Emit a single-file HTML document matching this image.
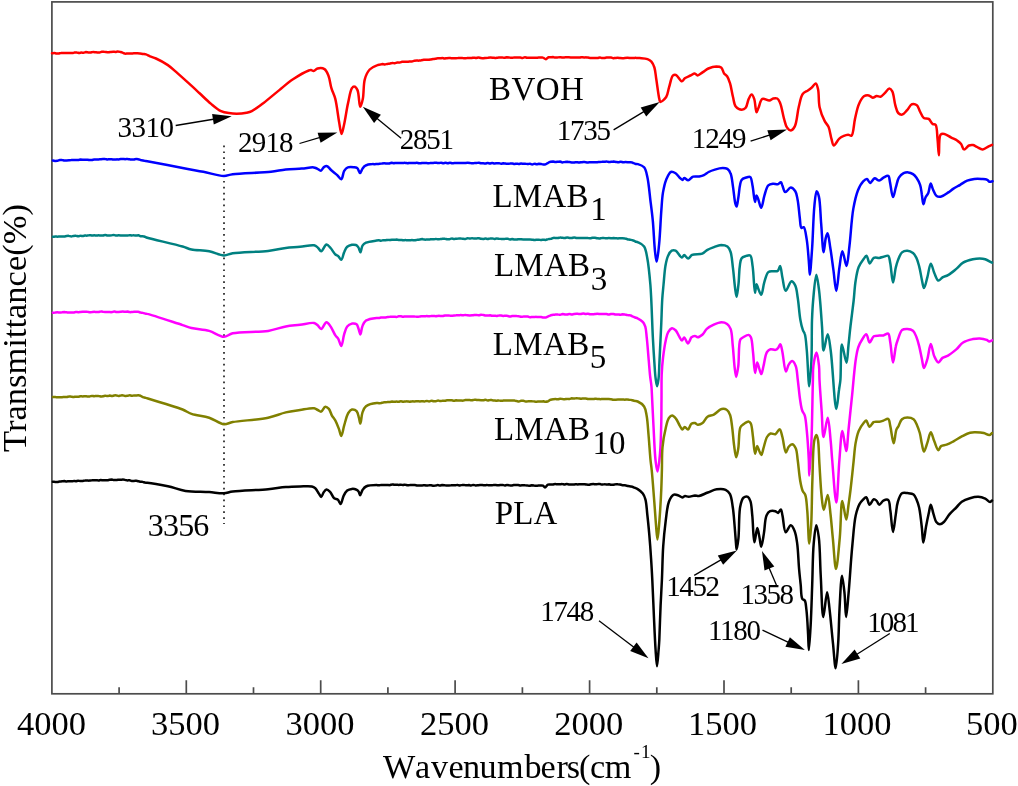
<!DOCTYPE html><html><head><meta charset="utf-8"><title>FTIR spectra</title><style>html,body{margin:0;padding:0;background:#fff;overflow:hidden;}svg{display:block;}text{font-family:"Liberation Serif","Times New Roman",serif;fill:#000;}</style></head><body>
<svg width="1018" height="786" viewBox="0 0 1018 786">
<rect x="0" y="0" width="1018" height="786" fill="#fff"/>
<rect x="51.9" y="1.9" width="940.9" height="691.9" fill="none" stroke="#4c4c4c" stroke-width="1.7"/>
<path d="M119.1,693.8V687.2 M186.3,693.8V680.2 M253.5,693.8V687.2 M320.7,693.8V680.2 M387.9,693.8V687.2 M455.1,693.8V680.2 M522.4,693.8V687.2 M589.6,693.8V680.2 M656.8,693.8V687.2 M724.0,693.8V680.2 M791.2,693.8V687.2 M858.4,693.8V680.2 M925.6,693.8V687.2" stroke="#4c4c4c" stroke-width="1.7" fill="none"/>
<text x="17.12" y="734.8" font-size="34.5">4000</text>
<text x="151.05" y="734.8" font-size="34.5">3500</text>
<text x="285.46" y="734.8" font-size="34.5">3000</text>
<text x="419.94" y="734.8" font-size="34.5">2500</text>
<text x="554.36" y="734.8" font-size="34.5">2000</text>
<text x="688.01" y="734.8" font-size="34.5">1500</text>
<text x="822.43" y="734.8" font-size="34.5">1000</text>
<text x="965.98" y="734.8" font-size="34.5">500</text>
<text x="383.0 415.0 430.9 448.4 463.1 479.5 497.0 524.6 540.5 556.6 566.7 579.1 590.0 604.7" y="777.6" font-size="34.2">Wavenumbers(cm</text>
<text x="633.49" y="758.4" font-size="19">-</text>
<text x="640.93" y="758.4" font-size="19">1</text>
<text x="649.70" y="777.6" font-size="34.2">)</text>
<text transform="translate(25.5,451.92) rotate(-90)" font-size="34.5">Transmittance(%)</text>
<line x1="224" y1="145.5" x2="224" y2="524" stroke="#222" stroke-width="1.7" stroke-dasharray="1.7 4.2"/>
<path d="M52.0,53.3C52.8,53.2 53.5,53.0 54.2,53.0C55.0,53.0 55.7,53.4 56.5,53.5C57.2,53.5 58.0,53.5 58.8,53.4C59.5,53.3 60.2,53.0 61.0,53.0C61.7,52.9 62.5,53.1 63.2,53.1C64.0,53.1 64.8,53.0 65.5,53.0C66.3,53.0 67.0,53.2 67.8,53.1C68.5,53.1 69.2,53.0 70.0,53.0C70.8,53.0 71.5,53.2 72.3,53.1C73.0,53.1 73.8,52.7 74.5,52.6C75.3,52.5 76.1,52.4 76.8,52.5C77.6,52.5 78.3,52.9 79.1,52.9C79.8,53.0 80.6,52.6 81.4,52.6C82.1,52.6 82.9,52.8 83.6,52.7C84.4,52.7 85.1,52.2 85.9,52.1C86.7,52.1 87.4,52.3 88.2,52.4C88.9,52.4 89.7,52.5 90.5,52.5C91.2,52.5 92.0,52.1 92.7,52.1C93.5,52.0 94.2,52.1 95.0,52.2C95.8,52.3 96.5,52.4 97.3,52.5C98.0,52.5 98.8,52.5 99.5,52.4C100.3,52.3 101.1,51.9 101.8,51.8C102.6,51.7 103.3,51.7 104.1,51.8C104.9,51.8 105.6,52.0 106.4,52.1C107.1,52.2 107.9,52.4 108.6,52.3C109.4,52.3 110.1,52.0 110.9,51.9C111.7,51.8 112.4,51.8 113.2,51.8C113.9,51.8 114.7,51.9 115.5,51.9C116.2,51.9 117.0,51.6 117.7,51.6C118.5,51.6 119.2,51.7 120.0,51.9C120.8,52.1 121.7,52.3 122.5,52.6C123.3,52.8 124.1,53.4 125.0,53.6C125.8,53.8 126.7,53.5 127.5,53.5C128.3,53.5 129.2,53.6 130.0,53.6C130.8,53.5 131.7,53.4 132.5,53.4C133.3,53.3 134.2,53.4 135.0,53.3C135.8,53.3 136.7,53.3 137.5,53.3C138.3,53.3 139.1,53.4 140.0,53.5C141.0,53.6 142.0,53.8 143.0,53.9C144.0,54.1 145.0,54.1 146.0,54.4C147.3,54.8 148.5,55.7 150.0,56.3C151.8,57.0 153.7,57.5 156.0,58.5C159.3,60.0 164.2,62.6 167.9,65.1C171.5,67.6 174.5,70.6 177.7,73.4C181.0,76.3 184.1,79.1 187.5,82.2C191.3,85.6 195.4,89.4 199.3,93.0C203.2,96.6 207.2,100.7 211.1,103.9C214.5,106.7 217.8,109.6 221.0,111.1C223.6,112.3 226.2,112.7 228.8,113.1C231.4,113.5 233.8,113.7 236.6,113.7C239.7,113.7 243.7,113.3 246.5,112.7C248.6,112.3 249.8,112.1 251.8,111.1C255.1,109.5 259.4,106.0 263.6,102.9C268.5,99.2 274.2,94.2 279.3,90.1C284.0,86.3 288.1,82.5 293.0,79.3C298.0,76.0 305.9,71.6 308.8,70.5C309.8,70.1 310.2,69.9 311.0,70.0C311.9,70.1 312.7,71.1 313.7,71.0C314.9,70.9 316.0,68.9 317.6,68.5C319.5,68.0 322.7,68.0 324.5,69.1C326.3,70.2 327.3,72.8 328.4,75.4C329.8,78.8 330.2,84.1 331.4,88.1C332.5,91.9 334.2,94.5 335.3,98.9C336.9,105.2 338.0,116.1 339.2,122.5C340.0,127.0 340.7,133.9 341.6,133.9C342.4,133.9 343.2,128.3 344.1,124.5C345.4,118.8 346.6,109.4 348.1,102.9C349.3,97.5 350.3,90.4 352.0,88.1C352.7,87.1 353.5,86.5 354.3,86.6C355.3,86.7 356.6,88.3 357.5,90.1C359.1,93.5 359.1,106.7 360.2,106.8C361.0,106.9 362.1,102.2 362.8,98.9C363.9,93.9 363.3,84.6 364.8,79.3C365.9,75.3 367.4,71.9 369.7,69.5C371.8,67.3 375.6,65.8 377.5,65.1C378.5,64.7 379.1,64.8 380.0,64.6C380.8,64.5 381.6,64.2 382.4,64.1C383.2,64.1 384.1,64.4 384.9,64.4C385.7,64.4 386.5,64.0 387.4,63.9C388.2,63.8 389.0,63.8 389.8,63.6C390.6,63.5 391.4,63.1 392.3,63.0C393.1,62.9 393.9,63.3 394.7,63.3C395.6,63.2 396.4,62.7 397.2,62.6C398.0,62.5 398.8,62.7 399.6,62.6C400.5,62.5 401.3,62.0 402.1,61.8C402.9,61.7 403.7,61.7 404.6,61.7C405.4,61.7 406.2,61.8 407.0,61.8C407.8,61.7 408.6,61.6 409.4,61.5C410.3,61.4 411.1,61.5 411.9,61.4C412.7,61.3 413.5,60.9 414.4,60.8C415.2,60.7 416.0,60.6 416.8,60.6C417.6,60.6 418.3,60.7 419.1,60.6C419.9,60.5 420.7,60.4 421.4,60.3C422.2,60.1 423.0,59.9 423.8,59.8C424.5,59.7 425.3,59.8 426.1,59.7C426.9,59.7 427.6,59.8 428.4,59.7C429.2,59.7 429.9,59.6 430.7,59.5C431.5,59.3 432.3,59.1 433.0,59.0C433.8,58.9 434.6,59.0 435.4,58.8C436.1,58.7 436.9,58.3 437.7,58.2C438.4,58.1 439.2,58.3 440.0,58.3C440.8,58.3 441.5,58.1 442.2,58.1C443.0,58.1 443.7,58.5 444.5,58.5C445.2,58.5 446.0,58.3 446.8,58.2C447.5,58.1 448.3,58.0 449.0,58.0C449.8,58.0 450.5,58.2 451.2,58.2C452.0,58.3 452.7,58.3 453.5,58.3C454.2,58.3 455.0,58.3 455.8,58.3C456.5,58.2 457.2,58.1 458.0,58.1C458.7,58.0 459.5,58.1 460.2,58.1C461.0,58.1 461.8,58.1 462.5,58.1C463.3,58.2 464.0,58.3 464.8,58.3C465.5,58.3 466.2,58.1 467.0,58.1C467.7,58.0 468.5,58.0 469.2,58.0C470.0,58.0 470.8,58.1 471.5,58.0C472.3,58.0 473.0,57.7 473.8,57.7C474.5,57.7 475.2,58.0 476.0,58.0C476.8,58.0 477.6,57.6 478.4,57.6C479.2,57.6 480.0,57.9 480.8,58.0C481.6,58.1 482.4,58.2 483.2,58.2C484.0,58.2 484.8,58.0 485.6,57.9C486.4,57.8 487.2,57.7 488.0,57.7C488.8,57.6 489.6,57.5 490.4,57.5C491.2,57.5 492.0,57.6 492.8,57.7C493.6,57.7 494.4,57.9 495.2,57.9C496.0,58.0 496.8,57.8 497.6,57.7C498.4,57.7 499.2,57.5 500.0,57.5C500.8,57.5 501.5,57.5 502.3,57.5C503.0,57.6 503.8,57.8 504.5,57.8C505.3,57.7 506.0,57.4 506.8,57.3C507.5,57.3 508.3,57.4 509.1,57.5C509.8,57.6 510.6,57.8 511.3,57.8C512.1,57.9 512.8,57.6 513.6,57.6C514.3,57.5 515.1,57.5 515.8,57.5C516.6,57.5 517.4,57.4 518.1,57.4C518.9,57.4 519.6,57.5 520.4,57.6C521.1,57.7 521.9,57.9 522.6,57.9C523.4,57.8 524.1,57.2 524.9,57.2C525.6,57.2 526.4,57.7 527.2,57.8C527.9,57.9 528.7,57.8 529.4,57.8C530.2,57.8 530.9,57.9 531.7,57.8C532.4,57.8 533.2,57.8 533.9,57.7C534.7,57.7 535.5,57.8 536.2,57.8C537.0,57.8 537.7,57.6 538.5,57.6C539.2,57.6 540.0,57.6 540.7,57.6C541.5,57.6 542.2,57.4 543.0,57.6C543.9,57.8 545.0,59.3 545.9,59.2C546.8,59.1 547.6,57.6 548.5,57.3C549.2,57.1 550.0,57.3 550.8,57.3C551.5,57.2 552.3,57.0 553.0,57.0C553.8,57.1 554.5,57.5 555.2,57.6C556.0,57.7 556.8,57.5 557.5,57.4C558.3,57.3 559.0,57.2 559.8,57.2C560.5,57.2 561.2,57.4 562.0,57.4C562.7,57.4 563.5,57.4 564.2,57.4C565.0,57.4 565.7,57.3 566.5,57.3C567.2,57.3 568.0,57.3 568.8,57.3C569.5,57.3 570.2,57.4 571.0,57.5C571.7,57.5 572.5,57.5 573.2,57.5C574.0,57.6 574.8,57.6 575.5,57.6C576.3,57.5 577.0,57.5 577.8,57.5C578.5,57.4 579.3,57.5 580.0,57.5C580.7,57.5 581.5,57.2 582.2,57.2C583.0,57.2 583.7,57.3 584.4,57.4C585.2,57.4 585.9,57.3 586.7,57.4C587.4,57.4 588.1,57.6 588.9,57.7C589.6,57.8 590.4,57.9 591.1,57.9C591.9,58.0 592.6,57.9 593.3,57.9C594.1,57.9 594.8,57.9 595.6,57.9C596.3,58.0 597.0,58.0 597.8,58.0C598.5,57.9 599.3,57.6 600.0,57.6C600.7,57.6 601.5,58.0 602.2,58.1C603.0,58.1 603.7,58.1 604.4,58.0C605.2,57.9 605.9,57.7 606.7,57.6C607.4,57.5 608.1,57.6 608.9,57.6C609.6,57.6 610.4,57.5 611.1,57.6C611.9,57.7 612.6,58.1 613.3,58.2C614.1,58.2 614.8,57.9 615.6,57.9C616.3,57.8 617.0,57.8 617.8,57.8C618.5,57.8 619.2,58.0 620.0,58.1C620.8,58.2 621.6,58.2 622.5,58.2C623.3,58.2 624.1,58.1 624.9,58.0C625.7,57.9 626.5,57.8 627.4,57.8C628.2,57.8 629.0,57.8 629.8,57.9C630.6,57.9 631.4,58.1 632.2,58.1C633.1,58.1 633.9,57.9 634.7,57.9C635.5,57.8 636.3,57.9 637.1,57.9C638.0,58.0 638.6,58.0 639.6,58.1C641.5,58.3 645.4,58.3 647.5,59.1C649.1,59.7 650.3,60.4 651.4,61.6C652.7,63.0 653.6,65.1 654.4,67.5C655.4,70.7 655.6,74.9 656.3,79.3C657.2,85.0 658.4,95.2 659.3,98.9C659.7,100.4 659.6,101.7 660.3,101.9C661.4,102.2 664.8,99.2 666.2,97.0C667.9,94.5 668.0,90.6 669.1,87.2C670.3,83.4 671.2,76.9 673.0,75.4C673.9,74.7 674.9,74.6 676.0,75.0C677.8,75.6 680.3,81.3 681.9,81.3C683.0,81.3 683.6,79.2 684.8,78.3C686.3,77.2 688.9,76.3 690.7,75.4C692.2,74.7 693.5,73.3 694.7,73.4C695.8,73.5 696.5,75.4 697.6,75.4C699.0,75.4 700.8,73.5 702.5,72.4C704.4,71.2 706.2,69.5 708.4,68.5C710.8,67.5 714.0,66.6 716.3,66.5C718.1,66.5 719.9,66.5 721.2,67.5C722.7,68.6 723.0,71.9 724.1,73.4C725.0,74.6 726.2,75.0 727.1,76.3C728.3,78.0 729.1,80.5 730.0,83.2C731.2,87.0 731.9,92.8 733.0,97.0C733.9,100.6 734.1,104.7 735.9,106.8C737.3,108.5 740.0,109.7 741.8,109.7C743.2,109.7 744.7,109.0 745.7,107.8C747.2,106.0 747.5,101.3 748.7,98.9C749.6,97.1 750.7,94.6 751.6,94.6C752.5,94.6 753.5,97.0 754.2,98.9C755.4,102.1 755.5,112.2 756.5,112.3C757.1,112.4 757.7,109.6 758.5,107.8C759.6,105.3 760.3,99.9 762.4,98.9C764.2,98.0 767.4,100.7 769.3,100.5C770.8,100.3 771.9,98.8 773.2,98.5C774.5,98.2 776.1,97.9 777.2,98.5C778.5,99.2 779.2,100.9 780.1,102.9C781.7,106.4 782.7,114.1 784.0,118.6C785.0,122.0 785.5,125.4 787.0,127.4C788.1,128.9 789.6,130.5 790.9,130.4C792.2,130.3 793.7,128.5 794.8,126.4C796.9,122.5 797.3,112.6 798.8,106.8C800.0,102.0 800.7,96.7 802.7,94.0C804.1,92.1 806.3,91.6 807.9,90.5C809.3,89.5 810.5,88.6 811.8,87.5C813.1,86.3 814.7,83.4 815.7,83.6C816.8,83.8 817.5,86.9 818.1,89.5C819.1,93.8 818.4,101.8 819.6,107.2C820.7,112.1 822.8,117.4 824.6,120.9C825.8,123.4 827.4,124.4 828.5,126.8C829.9,130.0 830.4,135.2 831.4,138.6C832.2,141.2 832.6,145.3 833.8,145.5C835.1,145.7 837.5,140.2 839.3,138.6C840.6,137.4 841.8,136.8 843.2,136.2C844.7,135.5 846.6,134.7 848.1,134.7C849.3,134.7 850.6,136.2 851.5,135.6C853.6,134.3 853.7,124.3 855.0,118.9C856.2,113.8 857.1,108.2 858.9,104.2C860.3,101.0 861.9,97.6 863.9,96.3C865.4,95.3 867.3,95.1 868.8,95.4C870.2,95.7 871.4,97.6 872.7,97.7C874.0,97.8 875.3,96.2 876.6,96.0C877.9,95.8 879.3,97.0 880.6,96.7C882.0,96.3 883.2,94.6 884.5,93.4C886.1,92.0 888.0,88.5 889.4,88.5C890.5,88.5 891.5,89.9 892.3,91.4C893.8,94.2 894.2,101.3 895.3,105.2C896.2,108.2 896.7,111.5 898.2,113.0C899.3,114.1 900.9,114.8 902.2,114.6C903.8,114.3 905.5,111.8 907.1,110.1C908.8,108.3 910.2,104.9 912.0,104.2C913.5,103.7 915.6,104.2 916.9,105.2C918.4,106.3 918.7,109.1 919.8,111.1C921.0,113.3 922.1,116.8 923.8,118.0C925.2,119.0 927.3,118.0 928.7,118.9C930.3,119.9 931.2,123.0 932.6,123.9C933.6,124.6 934.8,123.9 935.6,124.8C937.2,126.7 937.0,133.8 937.5,138.6C938.1,143.9 938.4,155.3 938.9,155.3C939.4,155.3 938.5,137.2 940.5,134.7C941.3,133.7 942.2,133.6 943.4,133.7C945.4,133.8 948.9,136.4 951.3,137.6C953.4,138.7 955.5,139.4 957.2,140.6C958.7,141.6 960.0,142.7 961.1,144.1C962.3,145.6 962.7,149.1 964.0,149.4C965.3,149.7 967.3,146.2 969.0,145.5C970.3,145.0 971.6,144.9 972.9,145.1C974.2,145.3 975.4,146.2 976.8,146.8C978.6,147.6 980.7,149.5 982.7,149.4C984.7,149.3 986.9,147.2 988.6,146.4C989.9,145.8 990.9,145.4 992.1,144.9" fill="none" stroke="#ff0000" stroke-width="2.5" stroke-linejoin="round" stroke-linecap="round"/>
<path d="M52.9,160.6C53.7,160.7 54.4,160.8 55.2,160.9C56.0,160.9 56.7,160.9 57.5,160.8C58.3,160.7 59.0,160.2 59.8,160.1C60.5,160.0 61.3,160.0 62.1,160.1C62.8,160.1 63.6,160.5 64.4,160.5C65.1,160.6 65.9,160.4 66.7,160.4C67.4,160.4 68.2,160.4 69.0,160.3C69.7,160.2 70.5,160.0 71.3,160.0C72.0,159.9 72.8,160.1 73.5,160.1C74.3,160.1 75.1,160.1 75.8,160.1C76.6,160.0 77.4,160.1 78.1,160.0C78.9,159.9 79.7,159.7 80.4,159.6C81.2,159.6 82.0,159.7 82.7,159.8C83.5,159.8 84.3,159.7 85.0,159.7C85.8,159.7 86.6,159.8 87.3,159.8C88.1,159.9 88.8,160.0 89.6,160.0C90.4,160.0 91.1,160.0 91.9,159.9C92.7,159.8 93.4,159.6 94.2,159.5C94.9,159.4 95.7,159.5 96.4,159.5C97.1,159.5 97.9,159.5 98.6,159.4C99.4,159.4 100.1,159.3 100.8,159.3C101.6,159.2 102.3,159.1 103.0,159.1C103.8,159.1 104.5,159.0 105.2,159.1C106.0,159.1 106.7,159.4 107.5,159.4C108.2,159.4 108.9,159.3 109.7,159.3C110.4,159.3 111.1,159.2 111.9,159.3C112.6,159.4 113.4,159.6 114.1,159.6C114.8,159.7 115.6,159.4 116.3,159.4C117.0,159.3 117.8,159.4 118.5,159.4C119.2,159.3 120.0,159.2 120.7,159.1C121.5,159.1 122.2,159.0 122.9,159.0C123.7,159.0 124.4,159.2 125.1,159.2C125.9,159.2 126.6,159.0 127.4,159.0C128.1,159.0 128.8,159.2 129.6,159.3C130.3,159.4 131.0,159.6 131.8,159.6C132.5,159.6 133.2,159.5 134.0,159.4C134.7,159.3 135.5,159.0 136.2,159.0C136.9,159.0 137.7,159.0 138.4,159.2C139.2,159.4 139.9,159.8 140.6,160.0C141.4,160.2 142.1,160.3 142.9,160.4C143.6,160.6 144.3,160.7 145.1,160.9C145.8,161.0 146.1,161.0 147.3,161.2C152.0,162.0 172.4,166.1 182.6,168.0C190.4,169.5 196.4,170.5 203.3,171.8C210.2,173.1 218.5,176.0 223.9,176.0C227.4,176.0 228.7,174.7 232.7,174.2C240.9,173.1 261.2,172.9 271.0,171.8C277.1,171.1 280.8,170.0 285.8,169.5C291.0,168.9 296.9,169.0 301.8,168.6C306.0,168.3 310.9,167.1 313.6,167.4C315.1,167.6 315.9,168.1 317.1,168.6C318.4,169.2 319.8,170.9 320.9,170.7C322.1,170.5 323.0,167.5 324.2,166.8C325.1,166.3 326.1,165.9 327.1,166.2C328.5,166.6 329.7,168.9 331.3,170.3C333.1,171.9 335.4,173.5 337.2,175.1C338.7,176.5 340.2,179.5 341.3,179.2C342.7,178.9 342.9,173.0 344.2,170.9C345.2,169.3 346.3,168.0 347.8,167.4C349.4,166.7 352.0,167.0 353.7,167.2C355.0,167.3 356.2,167.3 357.2,168.0C358.5,168.9 359.2,173.1 360.1,173.1C360.9,173.1 361.6,169.9 362.5,168.6C363.4,167.4 364.1,166.3 365.4,165.6C367.1,164.6 370.8,164.2 372.5,164.1C373.5,164.0 374.1,164.2 374.9,164.2C375.6,164.2 376.4,164.0 377.2,164.0C378.0,163.9 378.8,163.9 379.6,163.8C380.4,163.7 381.1,163.4 381.9,163.4C382.7,163.3 383.5,163.3 384.3,163.3C385.1,163.3 385.9,163.5 386.7,163.6C387.4,163.6 388.2,163.6 389.0,163.5C389.8,163.3 390.6,162.9 391.4,162.8C392.2,162.8 393.0,163.1 393.7,163.2C394.5,163.2 395.3,162.9 396.1,162.9C396.9,162.9 397.6,163.1 398.4,163.1C399.2,163.0 400.0,162.9 400.7,162.9C401.5,162.9 402.3,162.9 403.1,162.9C403.8,162.9 404.6,162.8 405.4,162.9C406.1,162.9 406.9,163.2 407.7,163.2C408.5,163.2 409.2,162.9 410.0,162.9C410.7,162.9 411.5,162.9 412.2,162.9C413.0,162.9 413.7,163.2 414.4,163.1C415.2,163.1 415.9,162.8 416.7,162.8C417.4,162.8 418.1,163.1 418.9,163.2C419.6,163.2 420.4,163.2 421.1,163.2C421.8,163.1 422.6,162.9 423.3,162.9C424.1,162.9 424.8,162.9 425.5,163.0C426.3,163.0 427.0,163.2 427.8,163.2C428.5,163.2 429.2,163.1 430.0,163.1C430.7,163.0 431.5,163.0 432.2,162.9C432.9,162.9 433.7,162.8 434.4,162.7C435.2,162.7 435.9,162.8 436.6,162.8C437.4,162.9 438.1,163.1 438.9,163.1C439.6,163.1 440.3,162.7 441.1,162.7C441.8,162.7 442.6,163.2 443.3,163.2C444.0,163.2 444.8,162.8 445.5,162.8C446.3,162.8 447.0,163.2 447.7,163.2C448.5,163.3 449.2,162.8 450.0,162.8C450.7,162.8 451.4,163.2 452.2,163.3C452.9,163.3 453.7,163.2 454.4,163.1C455.1,163.1 455.9,163.0 456.6,163.0C457.4,163.0 458.1,163.0 458.8,163.0C459.6,163.0 460.3,163.1 461.1,163.1C461.8,163.1 462.5,163.1 463.3,163.0C464.0,163.0 464.8,162.9 465.5,162.9C466.2,162.8 467.0,162.8 467.7,162.8C468.5,162.8 469.2,162.9 469.9,163.0C470.7,163.1 471.4,163.3 472.2,163.3C472.9,163.3 473.6,163.1 474.4,163.1C475.1,163.0 475.9,163.1 476.6,163.0C477.3,162.9 478.1,162.7 478.8,162.7C479.6,162.8 480.3,163.2 481.1,163.3C481.8,163.4 482.5,163.3 483.3,163.3C484.0,163.3 484.8,163.5 485.5,163.5C486.2,163.4 487.0,163.0 487.7,163.0C488.5,163.0 489.2,163.4 490.0,163.4C490.7,163.4 491.4,163.0 492.2,163.0C492.9,163.0 493.7,163.4 494.4,163.4C495.1,163.5 495.9,163.3 496.6,163.2C497.4,163.2 498.1,163.1 498.9,163.2C499.6,163.3 500.3,163.7 501.1,163.7C501.8,163.7 502.6,163.3 503.3,163.2C504.0,163.2 504.8,163.5 505.5,163.6C506.3,163.7 507.0,163.9 507.8,163.8C508.5,163.8 509.2,163.5 510.0,163.5C510.7,163.4 511.5,163.4 512.2,163.5C513.0,163.6 513.7,163.9 514.4,164.0C515.2,164.0 515.9,163.7 516.7,163.7C517.4,163.7 518.2,164.0 518.9,163.9C519.6,163.9 520.4,163.5 521.1,163.5C521.9,163.5 522.6,163.8 523.3,163.8C524.1,163.8 524.8,163.6 525.6,163.7C526.3,163.7 527.1,164.1 527.8,164.1C528.5,164.1 529.3,163.7 530.0,163.7C530.8,163.8 531.5,164.4 532.2,164.4C533.0,164.4 533.7,163.8 534.5,163.8C535.2,163.7 536.0,164.3 536.7,164.3C537.4,164.3 538.2,163.9 538.9,163.8C539.7,163.8 540.4,163.9 541.1,164.0C541.9,164.2 542.6,164.4 543.4,164.5C544.1,164.5 544.9,164.5 545.6,164.3C546.5,164.0 547.3,163.2 548.2,162.8C549.0,162.3 549.9,161.9 550.7,161.7C551.5,161.5 552.3,161.5 553.0,161.5C553.8,161.6 554.6,161.9 555.4,162.0C556.2,162.0 556.9,161.9 557.7,161.8C558.5,161.8 559.3,161.6 560.1,161.6C560.9,161.7 561.6,162.3 562.4,162.4C563.2,162.4 564.0,161.9 564.8,161.9C565.5,161.8 566.3,161.8 567.1,161.8C567.9,161.9 568.7,162.0 569.4,162.1C570.2,162.2 571.0,162.3 571.8,162.4C572.6,162.4 573.3,162.6 574.1,162.5C574.9,162.5 575.7,162.2 576.5,162.2C577.2,162.2 578.0,162.5 578.8,162.5C579.6,162.5 580.3,162.4 581.1,162.3C581.9,162.2 582.7,162.0 583.4,162.0C584.2,162.0 585.0,162.2 585.8,162.2C586.5,162.3 587.3,162.4 588.1,162.4C588.8,162.4 589.6,162.3 590.4,162.3C591.2,162.3 591.9,162.4 592.7,162.3C593.5,162.3 594.3,162.2 595.0,162.2C595.8,162.1 596.6,162.2 597.3,162.2C598.1,162.1 598.9,162.1 599.7,162.0C600.4,161.9 601.2,161.8 602.0,161.8C602.8,161.7 603.5,161.7 604.3,161.7C605.1,161.7 605.9,161.5 606.6,161.6C607.4,161.6 608.2,161.9 609.0,161.9C609.7,161.9 610.5,161.8 611.3,161.7C612.1,161.7 612.9,161.6 613.6,161.6C614.4,161.7 615.2,161.8 616.0,161.9C616.8,162.0 617.5,162.3 618.3,162.3C619.1,162.3 619.9,161.8 620.7,161.8C621.4,161.8 622.2,162.1 623.0,162.2C623.8,162.2 624.5,162.1 625.3,162.1C626.1,162.1 626.9,162.2 627.7,162.3C628.4,162.3 629.2,162.2 630.0,162.3C630.9,162.4 631.8,162.4 632.6,162.7C633.5,162.9 634.4,163.6 635.3,163.8C636.1,164.1 636.9,163.8 637.9,164.1C639.6,164.6 642.6,165.5 644.1,167.3C645.9,169.4 646.4,172.8 647.3,176.7C648.7,182.7 649.5,192.7 650.4,200.3C651.3,207.3 652.1,213.2 652.8,220.7C653.7,230.1 654.2,244.8 655.1,252.2C655.6,256.3 656.1,261.6 656.7,261.6C657.5,261.6 658.4,251.1 659.1,244.3C660.1,234.8 660.6,219.3 661.4,209.7C661.9,202.9 662.1,197.7 663.0,192.4C663.8,187.9 664.6,183.5 666.1,179.9C667.4,176.9 669.0,172.8 670.9,172.0C672.3,171.4 674.1,172.4 675.6,173.3C677.3,174.3 678.9,177.1 680.3,178.3C681.2,179.0 682.0,180.0 682.7,179.9C683.3,179.8 683.5,178.1 684.2,178.0C685.2,177.8 686.8,180.3 688.2,180.2C689.7,180.1 691.1,177.3 692.9,176.7C694.8,176.0 697.3,176.7 699.2,176.4C700.9,176.1 702.4,175.8 703.9,175.1C705.5,174.4 706.9,172.9 708.6,172.0C710.5,171.0 712.7,170.2 714.9,169.6C717.3,168.9 720.4,168.1 722.7,168.1C724.5,168.1 726.1,168.1 727.4,168.9C728.8,169.8 729.8,171.5 730.6,173.6C731.9,176.7 732.2,181.6 732.9,186.1C733.8,191.4 734.4,200.0 735.3,203.4C735.7,204.9 736.2,206.6 736.6,206.6C737.3,206.5 737.7,200.8 738.4,197.2C739.3,192.3 739.4,182.9 741.6,179.9C742.8,178.3 744.8,178.0 746.3,177.5C747.6,177.1 749.2,176.3 750.2,177.0C751.7,178.0 751.9,182.6 752.6,186.1C753.5,190.6 754.2,201.9 755.0,201.9C755.5,201.9 755.9,195.7 756.5,195.6C757.0,195.5 757.5,197.4 758.1,198.7C759.0,200.9 760.2,207.8 761.2,207.8C762.3,207.8 763.2,199.5 764.4,195.6C765.6,192.0 766.4,187.2 768.3,185.4C769.6,184.2 771.4,184.0 773.0,183.8C774.5,183.6 776.3,184.6 777.7,184.3C778.9,184.0 780.1,182.0 780.9,182.2C781.6,182.4 781.8,184.0 782.3,185.2C783.1,187.0 783.9,191.8 785.3,192.1C786.7,192.4 789.0,187.5 790.7,187.5C792.3,187.5 794.2,189.6 795.3,191.3C796.7,193.4 796.9,196.3 797.6,199.7C798.6,204.6 799.1,212.8 799.8,218.0C800.3,221.8 800.2,227.1 801.4,227.9C802.0,228.3 803.0,226.8 803.7,227.2C805.2,228.1 805.9,234.6 806.7,239.4C807.8,246.1 808.5,257.3 809.0,263.8C809.4,268.1 809.4,274.6 809.8,274.6C810.4,274.6 811.4,258.3 812.1,248.5C813.0,236.0 813.3,216.3 814.4,205.8C815.0,199.7 815.6,191.4 816.6,191.3C817.2,191.2 818.3,194.1 818.9,196.6C820.3,202.1 820.4,214.9 821.2,224.1C822.0,233.4 822.7,252.2 823.6,252.2C824.3,252.2 824.9,241.3 825.8,237.9C826.3,235.9 827.0,233.2 827.6,233.3C828.6,233.4 829.5,243.0 830.4,248.5C831.5,255.0 832.4,262.8 833.4,269.9C834.4,276.9 835.3,290.9 836.3,290.9C837.3,290.9 838.4,274.0 839.5,266.9C840.4,261.1 841.2,251.3 842.4,251.2C843.6,251.1 845.4,266.1 846.5,266.0C847.8,265.9 848.5,253.3 849.5,245.5C850.8,235.1 851.5,219.0 853.3,208.9C854.6,201.7 855.9,195.5 857.9,190.5C859.4,186.8 861.3,183.3 863.2,181.4C864.4,180.2 865.9,178.9 867.0,179.1C868.2,179.3 868.9,182.8 870.1,182.9C871.4,183.0 873.1,178.6 874.7,178.3C876.1,178.1 877.7,180.7 879.2,180.6C880.7,180.5 882.0,178.5 883.5,177.7C885.0,176.9 887.2,175.3 888.3,175.9C889.5,176.5 889.4,179.8 890.0,182.4C890.9,186.3 891.9,197.1 893.0,197.1C893.9,197.1 894.9,190.4 895.9,187.1C896.9,183.9 897.4,180.1 898.9,177.7C900.1,175.7 901.9,174.1 903.6,173.2C905.1,172.5 906.8,172.3 908.3,172.4C909.9,172.5 911.6,173.2 913.0,174.1C914.4,175.0 915.4,176.2 916.5,177.7C917.8,179.6 919.2,182.2 920.1,184.8C921.1,187.7 921.3,191.0 921.8,194.2C922.4,197.5 922.7,204.2 923.4,204.2C924.0,204.2 924.5,199.6 925.4,197.7C926.2,196.0 927.5,194.9 928.3,193.0C929.4,190.5 929.8,183.7 930.7,183.6C931.4,183.6 932.1,187.5 933.0,189.5C934.0,191.6 935.0,194.9 936.6,196.0C937.9,196.9 939.6,196.9 941.3,196.5C943.5,196.0 946.3,193.8 948.4,192.4C950.2,191.2 951.3,190.1 953.1,188.9C955.2,187.5 957.8,186.2 960.2,184.8C962.5,183.4 964.8,181.6 967.2,180.6C969.5,179.7 971.9,179.2 974.3,178.9C976.7,178.6 979.1,178.7 981.4,178.9C983.5,179.1 985.9,179.1 987.3,179.8C988.3,180.3 988.7,181.6 989.6,181.8C990.5,182.0 991.6,181.4 992.6,181.2" fill="none" stroke="#0000ff" stroke-width="2.5" stroke-linejoin="round" stroke-linecap="round"/>
<path d="M52.9,236.8C53.7,236.7 54.4,236.6 55.2,236.5C56.0,236.5 56.7,236.7 57.5,236.7C58.3,236.7 59.0,236.5 59.8,236.5C60.5,236.4 61.3,236.5 62.1,236.5C62.8,236.5 63.6,236.6 64.4,236.5C65.1,236.4 65.9,236.1 66.7,236.0C67.4,235.9 68.2,235.8 69.0,235.9C69.7,235.9 70.5,236.4 71.3,236.4C72.0,236.4 72.8,236.0 73.5,235.9C74.3,235.8 75.1,235.7 75.8,235.8C76.6,235.8 77.4,236.2 78.1,236.2C78.9,236.2 79.7,235.8 80.4,235.8C81.2,235.7 82.0,236.0 82.7,236.0C83.5,235.9 84.3,235.7 85.0,235.6C85.8,235.6 86.6,235.7 87.3,235.6C88.1,235.6 88.8,235.2 89.6,235.2C90.4,235.2 91.1,235.5 91.9,235.5C92.7,235.5 93.4,235.3 94.2,235.3C94.9,235.3 95.7,235.6 96.4,235.6C97.1,235.6 97.9,235.3 98.6,235.3C99.4,235.3 100.1,235.5 100.8,235.5C101.6,235.5 102.3,235.5 103.0,235.4C103.8,235.3 104.5,235.0 105.2,235.0C106.0,235.0 106.7,235.4 107.5,235.5C108.2,235.5 108.9,235.4 109.7,235.4C110.4,235.3 111.1,235.2 111.9,235.2C112.6,235.1 113.4,234.9 114.1,235.0C114.8,235.0 115.6,235.5 116.3,235.6C117.0,235.6 117.8,235.3 118.5,235.3C119.2,235.3 120.0,235.4 120.7,235.5C121.5,235.5 122.2,235.6 122.9,235.6C123.7,235.6 124.4,235.4 125.1,235.4C125.9,235.5 126.6,235.6 127.4,235.6C128.1,235.6 128.8,235.2 129.6,235.2C130.3,235.2 131.0,235.5 131.8,235.5C132.5,235.5 133.2,235.2 134.0,235.3C134.7,235.3 135.5,235.6 136.2,235.6C136.9,235.6 137.7,235.2 138.4,235.3C139.2,235.4 139.9,236.0 140.6,236.2C141.4,236.3 142.1,236.1 142.9,236.2C143.6,236.3 144.3,236.6 145.1,236.8C145.8,237.1 146.1,237.3 147.3,237.7C152.0,239.2 174.8,244.2 182.6,246.5C186.6,247.7 188.0,248.7 191.5,249.5C196.3,250.5 203.6,250.1 209.2,251.2C214.4,252.2 219.6,255.3 223.9,255.4C227.2,255.5 228.8,253.9 232.7,253.3C240.5,252.1 258.3,252.0 268.1,250.9C275.0,250.1 280.2,248.7 285.8,248.0C290.8,247.4 295.3,247.3 300.0,246.8C304.7,246.4 311.0,244.6 314.1,245.3C315.8,245.7 316.6,246.5 317.7,247.4C319.0,248.4 319.9,251.2 321.2,251.2C322.8,251.1 324.8,244.7 326.5,244.5C327.9,244.4 329.3,246.6 330.6,248.0C332.2,249.8 333.9,253.1 335.4,254.5C336.4,255.4 337.4,255.4 338.3,256.2C339.4,257.1 340.4,259.9 341.3,259.8C342.5,259.6 343.1,254.4 344.2,252.1C345.1,250.1 345.8,248.0 347.2,246.8C348.5,245.7 350.4,245.1 351.9,244.8C353.3,244.6 354.9,244.5 356.0,245.0C357.0,245.4 357.7,246.4 358.4,247.4C359.3,248.7 359.8,252.3 360.4,252.3C361.1,252.3 361.4,247.3 362.5,245.6C363.4,244.3 364.4,243.5 366.0,242.7C368.5,241.5 374.4,241.0 376.6,240.6C377.6,240.4 378.1,240.3 378.8,240.3C379.6,240.3 380.3,240.7 381.0,240.7C381.8,240.7 382.5,240.3 383.2,240.2C384.0,240.1 384.7,240.3 385.5,240.2C386.2,240.2 386.9,239.9 387.7,239.9C388.4,239.8 389.1,240.0 389.9,239.9C390.6,239.9 391.3,239.8 392.1,239.7C392.8,239.7 393.6,239.7 394.3,239.7C395.0,239.7 395.8,239.6 396.5,239.6C397.3,239.7 398.0,239.8 398.7,239.9C399.5,239.9 400.2,239.9 400.9,239.9C401.7,240.0 402.4,240.2 403.1,240.2C403.9,240.2 404.6,240.1 405.4,240.1C406.1,240.1 406.8,240.3 407.6,240.3C408.3,240.3 409.1,240.3 409.8,240.3C410.5,240.3 411.2,240.1 412.0,240.1C412.8,240.1 413.8,240.3 414.7,240.2C415.6,240.2 416.4,239.9 417.3,239.8C418.2,239.6 419.1,239.5 420.0,239.4C420.8,239.3 421.5,239.1 422.3,239.1C423.0,239.2 423.8,239.5 424.5,239.6C425.3,239.7 426.0,239.6 426.8,239.6C427.5,239.6 428.3,239.6 429.1,239.5C429.8,239.5 430.6,239.3 431.3,239.2C432.1,239.2 432.8,239.4 433.6,239.3C434.3,239.3 435.1,238.9 435.8,238.9C436.6,238.9 437.4,239.3 438.1,239.3C438.9,239.3 439.6,239.2 440.4,239.1C441.1,239.0 441.9,238.9 442.6,238.8C443.4,238.8 444.2,238.6 444.9,238.7C445.7,238.7 446.4,239.1 447.2,239.2C447.9,239.3 448.7,239.3 449.4,239.2C450.2,239.1 450.9,238.6 451.7,238.6C452.4,238.5 453.2,239.0 454.0,239.0C454.7,239.0 455.5,238.8 456.2,238.7C457.0,238.6 457.7,238.5 458.5,238.5C459.2,238.4 460.0,238.5 460.8,238.5C461.5,238.6 462.3,238.8 463.0,238.8C463.8,238.9 464.5,239.0 465.3,238.9C466.0,238.8 466.8,238.3 467.5,238.2C468.3,238.2 469.1,238.6 469.8,238.6C470.6,238.6 471.3,238.2 472.1,238.2C472.8,238.2 473.6,238.6 474.3,238.6C475.1,238.6 475.8,238.4 476.6,238.4C477.3,238.4 478.1,238.3 478.8,238.3C479.6,238.4 480.3,238.7 481.1,238.8C481.8,238.9 482.5,238.9 483.3,238.9C484.0,238.9 484.8,238.6 485.5,238.6C486.2,238.6 487.0,239.0 487.7,239.0C488.5,239.0 489.2,238.6 490.0,238.6C490.7,238.5 491.4,238.4 492.2,238.4C492.9,238.5 493.7,238.8 494.4,238.9C495.1,238.9 495.9,238.5 496.6,238.5C497.4,238.5 498.1,238.6 498.9,238.7C499.6,238.7 500.3,238.8 501.1,238.9C501.8,238.9 502.6,239.1 503.3,239.1C504.1,239.0 504.8,238.8 505.5,238.8C506.3,238.7 507.0,238.7 507.8,238.8C508.5,238.9 509.2,239.3 510.0,239.4C510.7,239.4 511.5,239.0 512.2,239.0C513.0,239.1 513.7,239.5 514.4,239.5C515.2,239.6 515.9,239.6 516.7,239.5C517.4,239.5 518.1,239.3 518.9,239.2C519.6,239.2 520.4,239.3 521.1,239.3C521.9,239.4 522.6,239.4 523.3,239.4C524.1,239.5 524.8,239.5 525.6,239.6C526.3,239.6 527.1,239.6 527.8,239.6C528.5,239.6 529.3,239.6 530.0,239.6C530.8,239.6 531.5,239.6 532.2,239.7C533.0,239.8 533.7,240.0 534.5,240.0C535.2,240.0 536.0,239.8 536.7,239.7C537.4,239.7 538.2,239.7 538.9,239.7C539.7,239.7 540.4,240.0 541.1,240.0C541.9,240.0 542.6,239.7 543.4,239.7C544.1,239.7 544.8,240.0 545.6,239.9C546.4,239.8 547.3,239.3 548.2,239.1C549.0,238.9 549.9,239.1 550.7,238.9C551.6,238.7 552.5,238.1 553.3,237.9C554.1,237.8 554.8,237.9 555.6,237.9C556.4,237.9 557.2,238.0 557.9,237.9C558.7,237.9 559.5,237.6 560.3,237.6C561.0,237.5 561.8,237.8 562.6,237.8C563.3,237.9 564.1,238.0 564.9,238.0C565.7,237.9 566.4,237.6 567.2,237.6C568.0,237.6 568.8,237.9 569.5,238.0C570.3,238.1 571.1,238.1 571.8,238.0C572.6,237.9 573.4,237.6 574.2,237.6C574.9,237.6 575.7,237.9 576.5,238.0C577.3,238.0 578.0,237.9 578.8,237.9C579.6,237.9 580.3,237.9 581.1,237.9C581.9,237.9 582.6,238.1 583.4,238.1C584.2,238.1 584.9,237.9 585.7,237.9C586.5,237.9 587.2,238.1 588.0,238.1C588.8,238.2 589.5,238.3 590.3,238.2C591.1,238.1 591.8,237.8 592.6,237.7C593.4,237.6 594.1,237.7 594.9,237.8C595.7,237.9 596.4,238.1 597.2,238.2C598.0,238.3 598.7,238.5 599.5,238.4C600.3,238.4 601.0,238.0 601.8,238.0C602.6,237.9 603.3,238.1 604.1,238.1C604.9,238.2 605.6,238.3 606.4,238.3C607.2,238.3 607.9,238.1 608.7,238.1C609.5,238.1 610.2,238.1 611.0,238.2C611.8,238.2 612.5,238.1 613.3,238.1C614.1,238.2 614.8,238.2 615.6,238.2C616.4,238.2 617.1,238.4 617.9,238.4C618.7,238.4 619.4,238.2 620.2,238.2C621.0,238.2 621.7,238.3 622.5,238.3C623.3,238.3 624.0,238.3 624.8,238.4C625.7,238.6 626.5,239.0 627.4,239.2C628.3,239.5 629.1,239.5 630.0,239.7C630.9,239.9 631.8,239.9 632.6,240.2C633.5,240.5 634.4,241.1 635.3,241.5C636.1,241.8 636.9,241.8 637.9,242.3C639.6,243.1 642.6,244.4 644.1,246.5C646.0,249.2 646.4,253.5 647.3,258.3C648.7,265.4 649.5,274.6 650.4,285.0C651.6,299.7 652.1,323.8 652.9,338.2C653.4,348.0 653.9,355.6 654.4,362.9C654.8,368.6 655.0,373.9 655.6,378.2C656.0,381.3 656.6,386.2 657.1,386.2C657.6,386.2 658.2,381.3 658.6,378.2C659.1,373.9 659.1,368.5 659.4,362.9C659.7,356.0 660.2,347.1 660.5,340.0C660.8,333.9 661.0,329.0 661.3,322.9C661.6,315.8 661.8,306.8 662.2,300.0C662.5,294.5 663.0,290.3 663.5,285.0C664.1,279.1 664.5,271.4 665.4,266.1C666.1,262.2 666.7,258.7 668.0,256.0C669.0,253.8 670.2,251.5 671.7,250.7C672.9,250.1 674.3,250.1 675.6,250.7C677.6,251.6 680.3,257.5 681.9,257.5C682.9,257.5 683.3,255.1 684.2,255.1C685.3,255.1 686.9,258.6 688.2,258.6C689.5,258.6 690.3,255.7 692.1,254.8C694.6,253.6 699.7,254.7 702.3,253.6C704.3,252.8 705.3,251.1 707.0,250.1C708.9,249.0 711.1,248.1 713.3,247.3C715.8,246.4 718.7,245.0 721.2,244.9C723.4,244.9 725.8,245.3 727.4,246.5C729.0,247.7 729.8,249.6 730.6,252.0C731.9,255.8 732.2,262.0 732.9,267.7C733.8,274.4 734.5,284.4 735.3,289.7C735.7,292.7 736.2,296.8 736.6,296.8C737.2,296.8 737.8,289.7 738.4,285.0C739.4,277.9 738.8,262.3 741.6,258.3C742.8,256.5 744.8,256.4 746.3,255.9C747.6,255.5 749.2,254.8 750.2,255.5C751.9,256.7 751.9,261.7 752.6,266.1C753.7,273.0 754.2,292.9 755.0,292.9C755.5,292.9 755.8,284.3 756.5,284.2C757.0,284.2 757.5,286.7 758.1,288.2C758.9,290.1 760.3,294.9 761.2,294.8C762.5,294.7 763.1,285.9 764.4,281.9C765.5,278.4 766.4,273.7 768.3,272.1C769.6,271.0 771.4,271.4 773.0,271.2C774.6,271.0 776.5,271.7 777.7,270.9C779.0,270.1 779.4,266.0 780.1,266.1C781.1,266.2 781.6,274.0 782.5,278.0C783.4,282.2 784.1,290.5 785.7,290.7C787.2,290.9 789.7,281.4 791.5,281.2C792.8,281.1 794.3,283.6 795.3,285.6C796.8,288.6 797.0,293.5 797.8,298.3C798.8,304.6 799.3,314.1 800.4,320.0C801.1,324.1 802.0,327.7 802.9,330.2C803.5,331.8 804.3,332.2 804.8,334.0C805.9,337.5 806.2,343.9 806.8,350.5C807.7,360.1 808.5,386.2 809.3,386.2C810.0,386.2 810.9,370.2 811.4,360.7C812.0,348.7 811.6,331.0 812.0,320.0C812.3,312.4 812.5,307.8 813.1,300.9C813.8,292.9 815.2,274.8 816.3,274.8C817.1,274.8 818.0,282.6 818.8,288.2C820.1,297.6 821.2,315.0 822.0,326.3C822.7,335.3 822.5,350.4 823.6,350.5C824.5,350.6 826.5,334.2 827.7,334.2C828.9,334.2 829.7,343.4 830.7,350.5C832.6,363.9 834.6,409.0 836.3,409.0C837.3,409.0 838.2,395.3 839.0,390.0C839.5,386.1 840.0,384.4 840.4,380.0C841.1,371.8 840.5,344.5 841.9,344.4C842.9,344.3 845.4,362.8 846.5,362.7C847.6,362.6 847.8,351.0 848.5,345.0C849.2,338.8 849.7,332.8 850.5,326.0C851.4,318.2 852.7,308.9 853.6,301.0C854.4,294.0 854.6,287.0 855.6,281.0C856.4,275.9 857.1,270.9 858.7,267.0C860.0,263.7 862.3,260.7 863.8,258.7C864.8,257.4 865.7,255.6 866.5,255.7C867.7,255.9 868.4,263.2 869.7,263.4C870.9,263.5 872.1,258.8 873.8,257.9C875.3,257.1 877.6,258.1 879.3,257.9C880.8,257.7 882.0,257.1 883.4,256.8C884.9,256.4 887.1,255.1 888.2,255.8C889.6,256.7 889.6,260.3 890.3,263.4C891.3,268.3 892.0,282.6 893.0,282.6C893.9,282.6 894.8,271.5 895.8,267.5C896.5,264.7 896.9,263.0 897.8,260.6C898.9,257.9 900.1,254.0 902.0,252.4C903.5,251.1 905.6,250.6 907.4,250.7C909.3,250.8 911.5,251.9 913.0,253.1C914.5,254.3 915.4,256.0 916.4,257.9C917.6,260.2 918.3,263.0 919.1,266.1C920.2,270.1 921.0,275.9 921.9,279.9C922.6,283.0 923.2,288.1 924.0,288.1C925.0,288.1 926.3,281.0 927.4,277.1C928.6,272.9 929.5,263.8 930.8,263.7C931.9,263.6 933.0,270.1 934.3,273.0C935.5,275.7 936.8,280.3 938.4,280.6C939.6,280.9 941.0,278.3 942.5,277.4C944.1,276.4 946.1,276.2 948.0,275.1C950.6,273.6 953.7,271.0 956.3,268.9C958.7,266.9 960.4,264.3 963.1,262.7C965.9,261.0 969.8,260.0 972.8,259.3C975.3,258.8 977.5,258.6 979.7,258.6C981.6,258.6 983.3,258.7 985.2,259.3C987.4,260.0 989.7,261.6 992.0,262.7" fill="none" stroke="#008080" stroke-width="2.5" stroke-linejoin="round" stroke-linecap="round"/>
<path d="M52.9,312.7C53.7,312.6 54.4,312.5 55.2,312.5C56.0,312.4 56.7,312.3 57.5,312.3C58.3,312.3 59.0,312.5 59.8,312.5C60.5,312.5 61.3,312.3 62.1,312.3C62.8,312.2 63.6,312.1 64.4,312.1C65.1,312.2 65.9,312.2 66.7,312.3C67.4,312.4 68.2,312.6 69.0,312.6C69.7,312.7 70.5,312.5 71.3,312.5C72.0,312.5 72.8,312.5 73.5,312.4C74.3,312.4 75.1,312.0 75.8,312.0C76.6,312.0 77.4,312.2 78.1,312.2C78.9,312.2 79.7,312.0 80.4,311.9C81.2,311.9 82.0,311.9 82.7,311.8C83.5,311.8 84.3,311.7 85.0,311.7C85.8,311.7 86.6,311.7 87.3,311.8C88.1,311.8 88.8,312.1 89.6,312.2C90.4,312.3 91.1,312.1 91.9,312.1C92.7,312.0 93.4,311.8 94.2,311.8C94.9,311.8 95.7,312.0 96.4,312.0C97.1,312.0 97.9,312.1 98.6,312.0C99.4,311.9 100.1,311.6 100.8,311.6C101.6,311.5 102.3,311.6 103.0,311.7C103.8,311.7 104.5,311.8 105.2,311.9C106.0,311.9 106.7,311.9 107.5,312.0C108.2,312.0 108.9,312.0 109.7,312.0C110.4,312.1 111.1,312.2 111.9,312.1C112.6,312.0 113.4,311.5 114.1,311.5C114.8,311.5 115.6,311.8 116.3,311.9C117.0,311.9 117.8,311.9 118.5,311.9C119.2,311.9 120.0,311.9 120.7,311.8C121.5,311.7 122.2,311.6 122.9,311.6C123.7,311.6 124.4,311.8 125.1,311.8C125.9,311.8 126.6,311.5 127.4,311.5C128.1,311.6 128.8,312.0 129.6,312.1C130.3,312.2 131.0,312.1 131.8,312.1C132.5,312.0 133.2,311.9 134.0,311.8C134.7,311.8 135.5,311.7 136.2,311.7C136.9,311.7 137.7,311.6 138.4,311.8C139.2,312.0 139.9,312.4 140.6,312.6C141.4,312.8 142.1,312.7 142.9,312.9C143.6,313.1 144.3,313.5 145.1,313.6C145.8,313.8 146.1,313.6 147.3,313.9C152.0,314.9 174.7,322.6 182.6,325.1C186.6,326.4 188.0,327.1 191.5,328.0C196.4,329.2 203.7,329.4 209.2,330.9C214.4,332.4 219.6,336.8 223.9,336.8C227.2,336.8 228.7,334.2 232.7,333.3C240.5,331.5 258.4,332.4 268.1,330.9C275.1,329.8 280.2,327.5 285.8,326.5C290.8,325.6 295.3,325.4 300.0,324.8C304.7,324.2 311.0,322.3 314.1,323.0C315.8,323.4 316.6,324.4 317.7,325.3C318.9,326.3 320.0,329.0 321.2,328.9C322.8,328.8 324.8,322.3 326.5,322.2C327.9,322.1 329.3,324.7 330.6,326.5C332.3,328.8 333.9,333.2 335.4,335.4C336.4,336.9 337.4,337.5 338.3,338.9C339.4,340.8 340.4,346.1 341.3,346.0C342.4,345.9 343.1,337.7 344.2,334.2C345.1,331.3 345.7,328.3 347.2,326.5C348.4,325.0 350.3,324.0 351.9,323.6C353.4,323.3 355.5,323.4 356.6,324.2C357.7,325.0 357.8,326.8 358.4,328.3C359.1,330.1 359.8,334.4 360.4,334.4C361.1,334.4 361.4,328.3 362.5,325.9C363.4,323.8 364.2,321.9 366.0,320.6C368.4,318.9 374.4,318.1 376.6,317.9C377.6,317.8 378.1,318.0 378.8,318.0C379.6,317.9 380.3,317.7 381.0,317.6C381.8,317.5 382.5,317.4 383.2,317.4C384.0,317.4 384.7,317.4 385.5,317.4C386.2,317.3 386.9,317.2 387.7,317.1C388.4,317.0 389.1,316.8 389.9,316.8C390.6,316.7 391.3,316.7 392.1,316.7C392.8,316.7 393.6,316.7 394.3,316.7C395.0,316.7 395.8,317.0 396.5,316.9C397.3,316.8 398.0,316.4 398.7,316.3C399.5,316.2 400.2,316.2 400.9,316.3C401.7,316.4 402.4,316.7 403.1,316.7C403.9,316.7 404.6,316.4 405.4,316.4C406.1,316.4 406.8,316.6 407.6,316.6C408.3,316.6 409.0,316.5 409.8,316.5C410.5,316.5 411.2,316.5 412.0,316.5C412.8,316.5 413.8,316.3 414.7,316.4C415.6,316.4 416.4,316.8 417.3,316.8C418.2,316.9 419.1,316.6 420.0,316.5C420.8,316.4 421.5,316.3 422.3,316.2C423.0,316.2 423.8,316.3 424.5,316.3C425.3,316.3 426.0,316.1 426.8,316.1C427.5,316.1 428.3,316.3 429.1,316.3C429.8,316.3 430.6,316.1 431.3,316.0C432.1,316.0 432.8,316.0 433.6,316.0C434.3,316.0 435.1,316.2 435.8,316.2C436.6,316.2 437.4,315.9 438.1,315.9C438.9,315.8 439.6,315.9 440.4,316.0C441.1,316.0 441.9,316.2 442.6,316.1C443.4,316.1 444.1,315.6 444.9,315.5C445.7,315.4 446.4,315.4 447.2,315.4C447.9,315.4 448.7,315.4 449.4,315.5C450.2,315.5 450.9,315.8 451.7,315.8C452.4,315.8 453.2,315.7 454.0,315.6C454.7,315.5 455.5,315.3 456.2,315.3C457.0,315.2 457.7,315.3 458.5,315.3C459.2,315.3 460.0,315.1 460.8,315.1C461.5,315.1 462.3,315.3 463.0,315.3C463.8,315.2 464.5,314.9 465.3,314.9C466.0,314.9 466.8,315.2 467.5,315.3C468.3,315.4 469.1,315.4 469.8,315.4C470.6,315.4 471.3,315.4 472.1,315.3C472.8,315.3 473.6,315.2 474.3,315.1C475.1,315.1 475.9,314.9 476.6,314.9C477.3,314.9 478.1,315.3 478.8,315.3C479.6,315.3 480.3,314.8 481.1,314.7C481.8,314.7 482.5,314.9 483.3,315.0C484.0,315.1 484.8,315.5 485.5,315.6C486.2,315.6 487.0,315.5 487.7,315.5C488.5,315.5 489.2,315.3 490.0,315.3C490.7,315.4 491.4,315.7 492.2,315.8C492.9,315.8 493.7,315.6 494.4,315.7C495.1,315.7 495.9,315.9 496.6,315.9C497.4,315.9 498.1,315.6 498.9,315.6C499.6,315.5 500.3,315.6 501.1,315.6C501.8,315.7 502.6,315.8 503.3,315.9C504.1,315.9 504.8,315.7 505.5,315.7C506.3,315.8 507.0,315.9 507.8,316.0C508.5,316.1 509.2,316.5 510.0,316.5C510.7,316.5 511.5,316.2 512.2,316.1C513.0,316.0 513.7,316.0 514.4,316.0C515.2,316.0 515.9,316.0 516.7,316.1C517.4,316.1 518.2,316.1 518.9,316.3C519.6,316.4 520.4,316.7 521.1,316.8C521.9,316.8 522.6,316.6 523.3,316.6C524.1,316.5 524.8,316.6 525.6,316.6C526.3,316.6 527.1,316.4 527.8,316.5C528.5,316.7 529.3,317.2 530.0,317.3C530.8,317.3 531.5,317.0 532.2,316.9C533.0,316.9 533.7,316.9 534.5,316.9C535.2,316.9 536.0,316.8 536.7,316.9C537.4,316.9 538.2,316.9 538.9,316.9C539.7,317.0 540.4,317.0 541.1,317.1C541.9,317.2 542.6,317.5 543.4,317.5C544.1,317.6 544.8,317.7 545.6,317.5C546.4,317.3 547.3,316.7 548.2,316.3C549.0,316.0 549.9,315.6 550.7,315.3C551.6,315.0 552.5,314.8 553.3,314.7C554.1,314.6 554.8,314.7 555.6,314.6C556.4,314.6 557.2,314.3 557.9,314.4C558.7,314.4 559.5,314.9 560.3,314.8C561.0,314.8 561.8,314.2 562.6,314.1C563.3,314.1 564.1,314.3 564.9,314.4C565.7,314.4 566.4,314.5 567.2,314.5C568.0,314.4 568.8,314.1 569.5,314.1C570.3,314.1 571.1,314.5 571.8,314.5C572.6,314.4 573.4,314.1 574.2,314.0C574.9,313.9 575.7,313.8 576.5,313.8C577.3,313.8 578.0,313.9 578.8,313.9C579.6,313.9 580.3,313.9 581.1,313.9C581.9,313.8 582.6,313.6 583.4,313.6C584.2,313.6 584.9,313.9 585.7,313.9C586.5,314.0 587.2,313.8 588.0,313.8C588.8,313.9 589.5,314.2 590.3,314.3C591.1,314.4 591.8,314.3 592.6,314.3C593.4,314.2 594.1,314.2 594.9,314.1C595.7,314.0 596.4,313.8 597.2,313.8C598.0,313.8 598.7,313.9 599.5,314.0C600.3,314.0 601.0,314.0 601.8,314.0C602.6,314.0 603.3,314.0 604.1,314.0C604.9,314.0 605.6,313.9 606.4,314.0C607.2,314.1 607.9,314.5 608.7,314.5C609.5,314.5 610.2,314.1 611.0,314.0C611.8,313.9 612.5,313.9 613.3,314.0C614.1,314.1 614.8,314.5 615.6,314.6C616.4,314.7 617.1,314.4 617.9,314.4C618.7,314.4 619.4,314.7 620.2,314.7C621.0,314.7 621.7,314.4 622.5,314.3C623.3,314.3 624.0,314.3 624.8,314.4C625.6,314.5 626.5,315.0 627.4,315.1C628.3,315.3 629.2,315.1 630.0,315.3C630.9,315.5 631.7,316.0 632.5,316.4C633.4,316.8 634.2,317.2 635.1,317.5C635.9,317.8 636.6,317.8 637.6,318.3C639.1,319.0 641.7,320.6 643.0,322.1C644.2,323.4 644.7,324.8 645.3,326.7C646.2,329.6 646.3,333.8 646.8,338.2C647.5,344.3 648.1,353.4 648.7,360.0C649.2,365.5 649.5,370.4 650.0,375.0C650.4,378.9 651.1,383.0 651.4,385.8C651.6,387.5 651.6,387.9 651.7,390.0C652.1,396.3 652.9,416.1 653.6,428.2C654.2,439.3 654.6,452.1 655.5,460.0C656.1,464.8 656.8,471.5 657.5,471.5C658.3,471.5 659.4,460.4 660.0,453.6C660.8,444.5 661.1,431.4 661.3,421.8C661.5,413.9 661.4,407.6 661.5,400.0C661.6,391.8 661.4,382.0 661.7,374.4C662.0,368.3 662.3,363.6 663.0,358.0C663.7,352.1 664.8,344.5 665.9,339.7C666.6,336.6 667.0,334.1 668.2,332.1C669.2,330.4 670.7,328.4 672.0,328.2C673.2,328.0 674.7,329.4 675.8,330.5C677.1,331.8 677.9,334.2 678.9,335.9C679.9,337.5 680.9,340.5 681.9,340.5C682.7,340.5 683.4,337.4 684.2,337.4C685.3,337.4 686.9,343.5 688.0,343.5C688.8,343.5 689.4,341.3 690.0,340.2C690.5,339.2 690.6,338.0 691.4,337.3C692.2,336.5 693.8,335.9 694.9,335.9C695.9,335.9 696.6,337.3 697.7,337.3C699.1,337.3 701.1,335.8 702.6,334.5C704.2,333.1 705.0,330.5 706.8,328.9C708.7,327.2 711.3,325.8 713.8,324.7C716.2,323.6 719.1,322.3 721.5,322.3C723.5,322.3 725.6,322.9 727.1,324.0C728.6,325.1 729.7,326.6 730.6,328.9C732.1,332.6 732.1,339.1 732.7,345.0C733.5,352.2 734.0,363.0 734.8,368.8C735.2,372.2 735.7,376.9 736.2,376.9C736.8,376.9 737.7,370.5 738.3,366.0C739.2,359.1 738.3,343.2 740.4,339.4C741.2,338.0 742.1,338.0 743.2,337.3C744.7,336.4 747.5,334.6 748.8,334.9C749.8,335.1 750.3,336.0 750.9,337.3C752.2,340.0 752.4,346.7 753.0,352.0C753.8,358.4 754.2,373.0 755.1,373.0C755.7,373.0 756.4,362.6 757.2,362.5C757.8,362.5 758.6,366.8 759.3,368.8C760.0,370.7 760.8,374.1 761.4,374.1C762.2,374.1 762.7,369.1 763.5,366.0C764.5,362.0 765.2,354.7 767.0,352.0C768.0,350.5 769.1,349.6 770.5,349.2C771.9,348.8 774.1,350.2 775.4,349.9C776.5,349.6 777.4,348.7 778.2,347.8C779.1,346.8 779.7,344.2 780.3,344.3C781.2,344.4 781.7,348.8 782.4,352.0C783.5,357.0 784.5,371.5 785.9,371.6C786.8,371.7 787.5,366.4 788.7,364.6C789.7,363.1 791.1,361.0 792.2,361.1C793.4,361.2 794.8,363.8 795.7,366.0C797.1,369.4 797.1,374.9 797.8,380.0C798.6,386.2 799.3,394.8 800.2,400.4C800.8,404.4 801.2,407.8 802.2,410.5C802.9,412.5 804.1,413.4 804.8,415.6C805.9,419.3 806.2,425.0 806.8,430.9C807.6,439.0 808.4,451.8 808.8,460.0C809.1,466.0 809.0,475.6 809.3,475.6C809.7,475.6 810.9,453.4 811.5,440.0C812.2,422.6 812.5,393.1 812.9,380.0C813.1,373.6 812.8,370.4 813.4,365.8C814.0,361.3 815.6,352.6 816.5,352.6C817.4,352.6 818.5,361.3 819.0,365.8C819.5,370.4 819.2,374.4 819.5,380.0C819.9,388.2 820.9,400.7 821.6,410.5C822.3,419.6 822.4,436.9 823.6,437.0C824.6,437.1 826.5,417.7 827.7,417.7C829.0,417.8 829.9,433.7 830.7,441.1C831.4,447.7 831.5,452.4 832.2,460.0C833.2,471.4 835.1,502.6 836.3,502.6C837.5,502.6 838.3,472.8 839.4,460.0C840.3,449.4 841.1,431.0 842.4,430.9C843.5,430.9 845.2,451.0 846.2,451.0C847.2,451.0 847.8,436.9 848.5,430.0C849.2,423.4 849.8,417.1 850.5,410.5C851.2,403.8 852.0,396.8 852.6,390.2C853.2,384.0 853.7,377.7 854.3,372.0C854.8,367.0 855.3,362.3 856.0,358.0C856.6,354.2 857.1,350.7 858.2,347.5C859.2,344.5 860.8,341.6 862.3,339.3C863.5,337.3 865.1,334.0 866.3,334.2C867.7,334.4 868.3,342.4 869.6,342.5C870.8,342.6 872.0,337.4 873.8,336.3C875.3,335.4 877.6,335.7 879.3,335.6C880.8,335.5 882.0,335.7 883.4,335.4C885.0,335.1 887.1,333.0 888.2,333.6C889.7,334.4 889.6,338.9 890.3,342.5C891.3,347.8 892.0,362.4 893.0,362.4C893.9,362.4 894.8,350.8 895.8,346.6C896.4,343.8 896.9,342.2 897.8,339.8C898.9,336.8 900.0,331.8 902.0,330.1C903.5,328.9 905.6,328.9 907.4,329.0C909.3,329.1 911.5,329.6 913.0,330.8C914.6,332.1 915.4,334.7 916.4,337.0C917.5,339.6 918.3,342.6 919.1,345.9C920.1,349.8 921.0,355.0 921.9,359.0C922.6,362.3 923.1,367.9 924.0,368.0C924.9,368.1 926.4,362.4 927.4,359.0C928.7,354.7 929.6,343.9 930.8,343.9C931.9,343.9 932.8,353.0 934.3,356.3C935.5,358.8 937.0,362.3 938.4,362.4C939.7,362.5 940.9,359.0 942.5,357.9C944.1,356.8 946.1,356.7 948.0,355.6C950.6,354.1 953.7,351.6 956.3,349.4C958.8,347.2 960.4,344.2 963.1,342.5C965.9,340.7 969.8,339.8 972.8,339.1C975.3,338.6 977.4,338.3 979.7,338.4C982.0,338.5 984.8,339.1 986.5,339.8C987.7,340.2 988.4,341.3 989.3,341.4C990.2,341.5 991.1,340.7 992.0,340.4" fill="none" stroke="#ff00ff" stroke-width="2.5" stroke-linejoin="round" stroke-linecap="round"/>
<path d="M52.9,397.1C53.7,397.1 54.4,397.1 55.2,397.1C56.0,397.1 56.7,397.2 57.5,397.2C58.3,397.2 59.0,397.1 59.8,397.2C60.5,397.2 61.3,397.2 62.1,397.2C62.8,397.2 63.6,397.0 64.4,397.0C65.1,397.0 65.9,397.2 66.7,397.1C67.4,397.0 68.2,396.5 69.0,396.4C69.7,396.4 70.5,396.6 71.3,396.7C72.0,396.8 72.8,397.0 73.5,397.0C74.3,397.0 75.1,396.7 75.8,396.7C76.6,396.7 77.4,396.9 78.1,396.8C78.9,396.8 79.7,396.3 80.4,396.2C81.2,396.2 82.0,396.4 82.7,396.4C83.5,396.4 84.3,396.2 85.0,396.2C85.8,396.2 86.6,396.4 87.3,396.4C88.1,396.4 88.8,396.4 89.6,396.4C90.4,396.3 91.1,395.9 91.9,395.9C92.7,395.9 93.4,396.2 94.2,396.2C94.9,396.2 95.7,396.0 96.4,396.0C97.1,395.9 97.9,395.9 98.6,396.0C99.4,396.0 100.1,396.3 100.8,396.4C101.6,396.4 102.3,396.3 103.0,396.2C103.8,396.1 104.5,395.7 105.2,395.7C106.0,395.7 106.7,396.2 107.5,396.1C108.2,396.1 108.9,395.7 109.7,395.6C110.4,395.6 111.1,395.9 111.9,395.9C112.6,395.9 113.4,395.6 114.1,395.5C114.8,395.4 115.6,395.3 116.3,395.4C117.0,395.5 117.8,396.0 118.5,396.0C119.2,396.0 120.0,395.5 120.7,395.5C121.5,395.4 122.2,395.3 122.9,395.4C123.7,395.5 124.4,395.8 125.1,395.9C125.9,396.0 126.6,395.9 127.4,395.8C128.1,395.7 128.8,395.3 129.6,395.3C130.3,395.3 131.0,395.7 131.8,395.8C132.5,395.8 133.2,395.5 134.0,395.4C134.7,395.4 135.5,395.5 136.2,395.5C136.9,395.4 137.7,395.2 138.4,395.3C139.1,395.4 139.9,395.6 140.6,395.8C141.4,396.1 142.1,396.8 142.9,397.1C143.6,397.4 144.3,397.5 145.1,397.7C145.8,397.9 146.1,397.9 147.3,398.3C152.0,399.7 174.8,406.4 182.6,409.5C186.6,411.1 187.9,412.7 191.5,413.9C196.3,415.6 203.7,415.9 209.2,417.7C214.4,419.4 219.6,423.8 223.9,424.2C227.2,424.5 228.8,422.8 232.7,422.1C240.5,420.7 258.4,419.7 268.1,417.7C275.1,416.2 280.2,413.7 285.8,412.4C290.8,411.2 295.3,410.7 300.0,410.0C304.7,409.3 311.0,407.8 314.1,408.3C315.7,408.6 316.5,409.4 317.7,410.0C318.9,410.5 320.1,411.9 321.2,411.6C322.6,411.3 323.9,406.9 325.3,406.7C326.5,406.5 327.9,407.8 328.9,408.9C330.2,410.4 330.7,413.3 331.8,415.3C332.9,417.2 334.3,418.6 335.4,420.6C336.7,423.0 337.9,426.2 338.9,428.9C339.8,431.3 340.5,436.0 341.3,436.0C342.3,436.0 343.1,429.1 344.2,425.4C345.4,421.4 346.6,415.7 348.3,413.0C349.4,411.3 350.5,409.8 351.9,409.5C353.3,409.2 355.5,410.0 356.6,411.2C357.9,412.6 358.3,415.6 358.9,417.7C359.5,419.7 359.9,423.6 360.4,423.6C361.1,423.6 361.4,415.5 362.5,412.4C363.4,410.0 364.1,407.8 366.0,406.3C368.4,404.4 374.4,403.2 376.6,403.0C377.6,402.9 378.1,403.2 378.8,403.2C379.6,403.2 380.3,403.1 381.0,403.0C381.8,402.8 382.5,402.5 383.2,402.4C384.0,402.3 384.7,402.4 385.5,402.3C386.2,402.2 386.9,402.1 387.7,402.0C388.4,401.9 389.1,401.9 389.9,401.9C390.6,401.8 391.3,401.7 392.1,401.6C392.8,401.6 393.6,401.8 394.3,401.8C395.0,401.8 395.8,401.6 396.5,401.6C397.2,401.6 398.0,401.8 398.7,401.8C399.5,401.7 400.2,401.3 400.9,401.3C401.7,401.3 402.4,401.7 403.1,401.7C403.9,401.7 404.6,401.5 405.4,401.4C406.1,401.4 406.8,401.3 407.6,401.4C408.3,401.4 409.0,401.7 409.8,401.7C410.5,401.7 411.2,401.4 412.0,401.4C412.8,401.3 413.8,401.4 414.7,401.4C415.6,401.4 416.4,401.3 417.3,401.3C418.2,401.3 419.1,401.4 420.0,401.4C420.8,401.4 421.5,401.3 422.3,401.3C423.0,401.3 423.8,401.5 424.5,401.4C425.3,401.4 426.0,400.9 426.8,400.9C427.5,400.9 428.3,401.5 429.1,401.5C429.8,401.5 430.6,400.8 431.3,400.8C432.1,400.7 432.8,401.1 433.6,401.2C434.3,401.3 435.1,401.3 435.8,401.2C436.6,401.1 437.4,400.6 438.1,400.6C438.9,400.6 439.6,401.0 440.4,401.1C441.1,401.1 441.9,400.8 442.6,400.7C443.4,400.7 444.2,400.9 444.9,400.8C445.7,400.7 446.4,400.4 447.2,400.3C447.9,400.3 448.7,400.3 449.4,400.3C450.2,400.3 450.9,400.3 451.7,400.3C452.5,400.4 453.2,400.8 454.0,400.8C454.7,400.8 455.5,400.3 456.2,400.2C457.0,400.2 457.7,400.5 458.5,400.6C459.2,400.6 460.0,400.6 460.8,400.6C461.5,400.6 462.3,400.7 463.0,400.6C463.8,400.5 464.5,400.2 465.3,400.1C466.0,400.0 466.8,400.0 467.5,400.0C468.3,400.0 469.1,400.1 469.8,400.1C470.6,400.1 471.3,400.3 472.1,400.2C472.8,400.1 473.6,399.7 474.3,399.7C475.1,399.6 475.8,399.8 476.6,399.9C477.3,400.0 478.1,400.1 478.8,400.1C479.6,400.2 480.3,400.2 481.1,400.2C481.8,400.3 482.5,400.4 483.3,400.3C484.0,400.3 484.8,399.8 485.5,399.8C486.2,399.8 487.0,400.5 487.7,400.5C488.5,400.5 489.2,400.0 490.0,400.0C490.7,399.9 491.4,400.1 492.2,400.2C492.9,400.3 493.7,400.4 494.4,400.4C495.1,400.5 495.9,400.7 496.6,400.7C497.4,400.7 498.1,400.3 498.9,400.4C499.6,400.4 500.3,400.8 501.1,400.8C501.8,400.9 502.6,400.7 503.3,400.6C504.1,400.6 504.8,400.5 505.5,400.5C506.3,400.5 507.0,400.6 507.8,400.6C508.5,400.6 509.2,400.6 510.0,400.5C510.7,400.5 511.5,400.5 512.2,400.5C513.0,400.5 513.7,400.6 514.4,400.6C515.2,400.7 515.9,401.0 516.7,401.1C517.4,401.2 518.2,401.4 518.9,401.4C519.6,401.3 520.4,400.9 521.1,400.8C521.9,400.7 522.6,400.7 523.3,400.8C524.1,400.9 524.8,401.4 525.6,401.5C526.3,401.6 527.1,401.3 527.8,401.3C528.5,401.2 529.3,401.2 530.0,401.2C530.8,401.2 531.5,401.1 532.2,401.2C533.0,401.2 533.7,401.4 534.5,401.5C535.2,401.6 536.0,401.7 536.7,401.7C537.4,401.7 538.2,401.5 538.9,401.5C539.7,401.5 540.4,401.6 541.1,401.5C541.9,401.5 542.6,401.3 543.4,401.3C544.1,401.4 544.8,401.7 545.6,401.7C546.4,401.7 547.3,401.5 548.2,401.2C549.0,400.8 549.9,400.0 550.7,399.7C551.6,399.4 552.5,399.3 553.3,399.2C554.1,399.1 554.8,399.1 555.6,399.1C556.4,399.1 557.2,399.4 557.9,399.3C558.7,399.2 559.5,398.8 560.3,398.7C561.0,398.7 561.8,399.0 562.6,399.1C563.3,399.1 564.1,399.2 564.9,399.2C565.7,399.1 566.4,398.9 567.2,398.9C568.0,398.8 568.8,399.0 569.5,398.9C570.3,398.8 571.1,398.4 571.8,398.3C572.6,398.3 573.4,398.5 574.2,398.5C574.9,398.5 575.7,398.2 576.5,398.2C577.3,398.2 578.0,398.3 578.8,398.4C579.6,398.5 580.3,398.7 581.1,398.7C581.9,398.7 582.6,398.4 583.4,398.4C584.2,398.4 584.9,398.5 585.7,398.6C586.5,398.7 587.2,398.9 588.0,399.0C588.8,399.1 589.5,399.0 590.3,399.0C591.1,399.0 591.8,399.1 592.6,399.1C593.4,399.1 594.1,398.9 594.9,398.8C595.7,398.8 596.4,398.9 597.2,398.9C598.0,399.0 598.7,399.1 599.5,399.1C600.3,399.2 601.0,399.1 601.8,399.0C602.6,399.0 603.3,399.0 604.1,399.0C604.9,399.0 605.6,399.1 606.4,399.1C607.2,399.1 607.9,399.0 608.7,399.0C609.5,399.0 610.2,399.1 611.0,399.2C611.8,399.3 612.5,399.6 613.3,399.7C614.1,399.8 614.8,399.8 615.6,399.8C616.4,399.7 617.1,399.6 617.9,399.6C618.7,399.6 619.4,399.6 620.2,399.6C621.0,399.6 621.7,399.5 622.5,399.5C623.3,399.5 624.0,399.7 624.8,399.7C625.5,399.7 626.3,399.5 627.0,399.5C627.7,399.5 628.5,399.6 629.2,399.7C629.9,399.7 630.6,399.7 631.4,399.9C632.4,400.1 633.5,400.6 634.5,400.9C635.6,401.2 636.5,401.0 637.7,401.5C639.5,402.3 642.6,404.3 644.1,406.5C645.7,408.9 645.9,411.9 646.6,415.5C647.6,420.6 647.9,427.7 648.5,434.5C649.2,442.4 649.9,453.5 650.5,460.0C650.9,464.1 651.3,465.7 651.7,470.0C652.5,477.6 653.5,491.8 654.3,501.8C655.0,510.8 655.6,520.4 656.2,527.3C656.6,532.1 657.0,539.4 657.5,539.4C658.1,539.4 658.8,527.9 659.4,520.9C660.1,511.7 660.9,498.4 661.3,489.1C661.6,481.9 661.7,476.6 661.9,470.0C662.1,462.8 661.8,454.5 662.5,447.3C663.1,440.6 664.4,433.5 665.7,428.2C666.6,424.2 667.4,420.1 668.9,418.0C669.8,416.7 671.0,415.5 672.1,415.5C673.3,415.5 674.8,417.2 675.9,418.6C677.4,420.4 678.5,423.6 679.7,425.6C680.6,427.1 681.4,429.4 682.3,429.5C683.1,429.6 683.9,427.0 684.8,426.9C685.8,426.8 687.0,429.7 688.0,429.5C689.3,429.3 690.0,424.7 691.4,423.7C692.4,423.0 693.8,422.8 694.9,423.0C695.9,423.2 696.6,424.6 697.7,424.7C699.1,424.8 701.1,424.1 702.6,423.0C704.5,421.7 705.5,418.1 707.5,416.7C709.3,415.4 711.7,415.7 713.8,414.6C716.3,413.3 719.1,409.6 721.5,409.0C723.3,408.5 725.3,408.8 726.7,409.7C728.2,410.6 729.1,412.5 729.9,414.6C731.1,417.5 731.4,421.5 732.0,425.8C732.8,431.4 733.3,439.7 734.1,445.4C734.7,449.9 735.4,457.3 736.2,457.3C736.9,457.3 737.7,451.9 738.3,448.2C739.2,442.7 738.7,430.8 740.4,427.2C741.1,425.6 742.0,425.2 743.2,424.4C744.7,423.3 747.4,421.4 748.8,421.6C749.7,421.8 750.3,422.6 750.9,423.7C752.1,426.1 752.3,432.3 753.0,437.0C753.7,442.3 754.2,453.7 755.1,453.8C755.7,453.8 756.4,446.2 757.2,446.1C757.8,446.1 758.6,449.5 759.3,451.0C760.0,452.4 760.8,455.0 761.4,454.9C762.2,454.8 762.7,450.7 763.5,448.2C764.5,444.9 765.5,439.6 767.0,437.0C768.0,435.3 769.1,434.0 770.5,433.5C771.9,433.0 774.0,434.7 775.4,434.2C777.0,433.6 778.5,429.1 779.6,429.3C780.9,429.5 781.5,434.0 782.4,437.0C783.6,441.2 784.5,452.2 785.9,452.4C786.8,452.5 787.5,448.2 788.7,446.8C789.7,445.6 791.1,444.2 792.2,444.3C793.4,444.4 794.8,446.4 795.7,448.2C797.1,451.1 797.1,456.1 797.8,460.8C798.6,466.7 799.2,475.2 800.2,480.7C800.9,484.7 801.6,488.3 802.7,490.9C803.4,492.6 804.6,493.1 805.3,495.0C806.6,498.5 806.7,504.9 807.3,511.2C808.1,520.1 808.5,543.6 809.3,543.6C809.9,543.6 810.7,532.2 811.2,524.5C811.9,512.8 811.8,494.4 812.4,480.0C812.9,466.3 812.8,446.9 814.4,440.0C815.0,437.5 815.9,435.0 816.5,435.0C817.1,435.0 817.6,437.7 818.0,440.0C818.9,445.1 818.9,456.2 819.5,465.0C820.1,474.8 820.7,487.7 821.6,496.0C822.2,501.6 822.8,510.0 823.8,510.0C824.8,510.1 826.6,494.9 827.7,495.0C828.9,495.1 829.8,508.0 830.6,515.0C831.5,522.9 832.1,531.4 833.0,540.0C833.9,549.3 834.9,569.1 836.0,569.1C837.2,569.1 838.8,548.3 839.8,537.3C840.9,525.6 840.9,501.1 842.3,501.0C843.3,500.9 845.2,519.5 846.3,519.5C847.2,519.5 847.8,509.9 848.5,505.0C849.2,500.0 849.8,495.8 850.5,490.0C851.5,482.0 852.7,469.9 853.6,461.4C854.3,454.6 854.6,448.6 855.6,443.1C856.4,438.6 857.2,434.5 858.7,430.9C860.0,427.8 862.3,424.5 863.8,422.7C864.7,421.7 865.4,420.5 866.2,420.6C867.4,420.8 868.3,426.7 869.6,426.8C870.8,426.9 872.1,422.8 873.8,422.0C875.4,421.2 877.6,422.0 879.3,421.7C880.8,421.5 882.0,421.1 883.4,420.6C884.9,420.1 887.1,418.2 888.2,418.8C889.6,419.5 889.6,423.1 890.3,426.1C891.4,430.6 892.6,443.3 893.7,443.3C894.7,443.3 895.2,432.6 896.4,429.6C897.0,428.0 897.7,427.5 898.5,426.1C899.5,424.2 900.3,420.7 902.0,419.3C903.4,418.1 905.5,417.6 907.4,417.6C909.4,417.6 912.0,418.1 913.6,419.3C915.3,420.6 916.1,423.2 917.1,425.4C918.2,427.7 919.0,430.2 919.8,433.0C920.7,436.3 921.1,440.7 921.9,444.0C922.5,446.8 923.1,451.6 924.0,451.6C924.9,451.6 926.3,445.7 927.4,442.6C928.6,439.3 929.6,432.3 930.8,432.3C931.9,432.3 933.0,438.3 934.3,441.3C935.6,444.3 937.1,450.1 938.4,450.2C939.3,450.3 939.8,447.0 941.1,446.1C942.5,445.1 944.7,445.4 946.6,444.7C948.8,443.9 951.1,442.6 953.5,441.3C956.2,439.9 959.0,437.9 961.8,436.4C964.5,435.0 967.5,433.3 970.0,432.7C972.0,432.2 973.5,432.3 975.5,432.3C978.0,432.3 981.4,432.4 983.8,433.0C985.9,433.5 987.8,435.3 989.3,435.1C990.4,434.9 991.1,433.7 992.0,433.0" fill="none" stroke="#808000" stroke-width="2.5" stroke-linejoin="round" stroke-linecap="round"/>
<path d="M52.9,481.8C53.7,481.8 54.4,481.9 55.2,481.9C56.0,481.9 56.7,481.9 57.5,481.9C58.3,481.8 59.0,481.6 59.8,481.5C60.5,481.4 61.3,481.4 62.1,481.3C62.8,481.2 63.6,481.0 64.4,481.0C65.1,481.1 65.9,481.4 66.7,481.4C67.4,481.4 68.2,481.2 69.0,481.2C69.7,481.2 70.5,481.4 71.3,481.3C72.0,481.3 72.8,481.0 73.5,481.0C74.3,480.9 75.1,481.2 75.8,481.2C76.6,481.1 77.4,480.7 78.1,480.7C78.9,480.7 79.7,481.0 80.4,481.0C81.2,481.0 82.0,481.0 82.7,480.9C83.5,480.8 84.3,480.6 85.0,480.6C85.8,480.5 86.6,480.6 87.3,480.6C88.1,480.6 88.8,480.7 89.6,480.6C90.4,480.5 91.1,480.2 91.9,480.2C92.7,480.1 93.4,480.3 94.2,480.3C94.9,480.3 95.7,480.3 96.4,480.3C97.1,480.3 97.9,480.5 98.6,480.4C99.4,480.4 100.1,480.0 100.8,480.0C101.6,480.0 102.3,480.3 103.0,480.3C103.8,480.3 104.5,480.2 105.2,480.2C106.0,480.2 106.7,480.3 107.5,480.2C108.2,480.2 108.9,479.9 109.7,479.8C110.4,479.7 111.1,479.6 111.9,479.6C112.6,479.7 113.3,480.0 114.1,480.1C114.8,480.1 115.5,480.1 116.3,480.0C117.0,480.0 117.8,479.8 118.5,479.7C119.2,479.7 120.0,479.7 120.7,479.7C121.4,479.7 122.2,479.6 122.9,479.6C123.7,479.6 124.4,479.7 125.1,479.9C125.9,480.0 126.6,480.3 127.3,480.4C128.1,480.4 128.8,480.2 129.6,480.3C130.3,480.4 131.0,480.9 131.8,481.0C132.5,481.0 133.2,480.9 134.0,480.9C134.7,480.9 135.5,480.8 136.2,480.8C136.9,480.9 137.7,481.1 138.4,481.2C139.1,481.3 139.9,481.6 140.6,481.7C141.4,481.8 142.1,481.7 142.9,481.9C143.6,482.0 144.3,482.5 145.1,482.6C145.8,482.8 146.2,482.6 147.3,482.7C150.7,483.0 161.3,484.8 167.9,486.2C174.1,487.5 179.2,489.9 185.6,490.9C192.8,492.0 202.3,491.6 209.2,492.1C214.7,492.5 219.6,493.6 223.9,493.3C227.2,493.1 228.8,492.0 232.7,491.5C240.5,490.5 258.3,490.1 268.1,489.2C275.0,488.6 280.2,487.5 285.8,487.1C290.8,486.7 295.5,486.6 300.0,486.5C304.1,486.4 309.1,485.8 311.8,486.5C313.4,486.9 314.2,487.4 315.3,488.3C316.7,489.5 317.8,492.0 318.9,493.6C319.7,494.8 320.5,496.9 321.2,496.9C322.0,496.9 322.7,493.7 323.6,492.4C324.4,491.3 325.4,489.6 326.5,489.5C327.6,489.4 329.0,490.7 330.1,491.8C331.6,493.3 332.6,497.1 334.2,498.3C335.3,499.2 336.7,498.7 337.7,499.5C338.9,500.4 339.8,504.1 340.7,504.0C341.8,503.9 342.4,498.2 343.6,495.9C344.6,493.9 345.7,491.8 347.2,490.6C348.5,489.6 350.4,489.1 351.9,488.9C353.3,488.8 354.9,489.0 356.0,489.5C357.0,489.9 357.8,490.4 358.4,491.2C359.2,492.2 359.5,495.3 360.1,495.3C360.8,495.3 361.5,491.5 362.5,490.0C363.5,488.6 364.3,487.3 366.0,486.5C368.5,485.3 374.4,485.1 376.6,485.1C377.6,485.1 378.1,485.4 378.8,485.3C379.6,485.3 380.3,485.1 381.0,485.0C381.8,485.0 382.5,485.0 383.2,485.1C384.0,485.1 384.7,485.0 385.5,485.0C386.2,485.0 386.9,485.0 387.7,485.1C388.4,485.1 389.1,485.2 389.9,485.1C390.6,485.0 391.3,484.5 392.1,484.4C392.8,484.4 393.6,484.7 394.3,484.7C395.0,484.7 395.8,484.6 396.5,484.7C397.3,484.7 398.0,484.9 398.7,484.9C399.5,484.9 400.2,484.7 400.9,484.7C401.7,484.7 402.4,485.0 403.1,485.0C403.9,485.0 404.6,484.6 405.4,484.7C406.1,484.7 406.8,485.2 407.6,485.3C408.3,485.3 409.0,485.1 409.8,485.1C410.5,485.0 411.2,485.1 412.0,485.1C412.8,485.1 413.8,484.9 414.7,485.0C415.6,485.1 416.4,485.4 417.3,485.5C418.2,485.6 419.2,485.6 420.0,485.6C420.8,485.6 421.5,485.5 422.2,485.4C423.0,485.4 423.7,485.3 424.4,485.3C425.2,485.4 425.9,485.5 426.7,485.5C427.4,485.5 428.1,485.3 428.9,485.3C429.6,485.2 430.4,485.2 431.1,485.3C431.9,485.4 432.6,485.7 433.3,485.7C434.1,485.8 434.8,485.7 435.6,485.6C436.3,485.5 437.0,485.1 437.8,485.1C438.5,485.1 439.3,485.6 440.0,485.6C440.7,485.6 441.5,485.1 442.2,485.0C443.0,485.0 443.7,485.1 444.4,485.2C445.2,485.3 445.9,485.6 446.7,485.6C447.4,485.6 448.1,485.5 448.9,485.4C449.6,485.3 450.4,485.2 451.1,485.2C451.9,485.1 452.6,485.2 453.3,485.2C454.1,485.2 454.8,485.2 455.6,485.2C456.3,485.1 457.0,484.9 457.8,485.0C458.5,485.0 459.3,485.6 460.0,485.5C460.7,485.5 461.5,484.9 462.2,484.9C463.0,484.8 463.7,485.0 464.4,485.1C465.2,485.2 465.9,485.3 466.7,485.3C467.4,485.3 468.1,485.0 468.9,485.0C469.6,485.1 470.4,485.4 471.1,485.4C471.9,485.4 472.6,484.9 473.3,484.9C474.1,484.9 474.8,485.3 475.6,485.4C476.3,485.4 477.0,485.4 477.8,485.3C478.5,485.2 479.3,485.0 480.0,485.0C480.7,485.0 481.5,485.1 482.2,485.1C483.0,485.2 483.8,485.3 484.5,485.3C485.3,485.3 486.0,485.0 486.8,485.0C487.5,485.0 488.2,485.3 489.0,485.3C489.7,485.4 490.5,485.3 491.2,485.3C492.0,485.3 492.7,485.2 493.5,485.1C494.2,485.1 495.0,485.1 495.8,485.1C496.5,485.2 497.3,485.3 498.0,485.3C498.8,485.3 499.5,485.2 500.2,485.1C501.0,485.1 501.8,484.9 502.5,484.9C503.3,485.0 504.0,485.4 504.8,485.4C505.5,485.4 506.2,485.1 507.0,485.1C507.7,485.1 508.5,485.2 509.2,485.3C510.0,485.3 510.8,485.5 511.5,485.5C512.3,485.5 513.0,485.2 513.8,485.1C514.5,485.0 515.3,485.0 516.0,485.0C516.8,485.0 517.5,485.0 518.2,485.1C519.0,485.2 519.7,485.4 520.5,485.4C521.2,485.5 522.0,485.3 522.8,485.3C523.5,485.3 524.3,485.2 525.0,485.3C525.8,485.3 526.5,485.3 527.2,485.4C528.0,485.5 528.8,485.8 529.5,485.8C530.3,485.8 531.0,485.4 531.8,485.3C532.5,485.3 533.3,485.4 534.0,485.5C534.8,485.5 535.5,485.8 536.2,485.8C537.0,485.8 537.8,485.7 538.5,485.6C539.3,485.6 540.0,485.4 540.8,485.4C541.5,485.4 542.3,485.3 543.0,485.6C543.7,485.9 544.3,487.4 545.0,487.4C545.9,487.4 547.0,485.0 548.0,484.6C548.8,484.3 549.6,484.5 550.4,484.5C551.2,484.5 552.0,484.5 552.8,484.4C553.6,484.4 554.4,484.1 555.2,484.1C556.0,484.1 556.8,484.2 557.6,484.2C558.4,484.2 559.2,484.2 560.0,484.2C560.8,484.2 561.5,484.0 562.2,484.1C563.0,484.1 563.7,484.4 564.4,484.4C565.2,484.4 565.9,484.1 566.7,484.1C567.4,484.1 568.1,484.3 568.9,484.4C569.6,484.4 570.4,484.6 571.1,484.6C571.9,484.6 572.6,484.6 573.3,484.6C574.1,484.5 574.8,484.2 575.6,484.2C576.3,484.2 577.0,484.4 577.8,484.4C578.5,484.4 579.3,484.2 580.0,484.2C580.7,484.2 581.5,484.2 582.2,484.2C583.0,484.3 583.7,484.3 584.4,484.3C585.2,484.4 585.9,484.5 586.7,484.5C587.4,484.6 588.2,484.7 588.9,484.7C589.6,484.6 590.4,484.3 591.1,484.2C591.8,484.1 592.6,484.0 593.3,484.0C594.1,484.0 594.8,484.3 595.6,484.3C596.3,484.4 597.0,484.1 597.8,484.1C598.5,484.0 599.3,484.0 600.0,484.1C600.7,484.2 601.5,484.6 602.2,484.6C603.0,484.6 603.7,484.2 604.4,484.2C605.2,484.1 605.9,484.6 606.7,484.6C607.4,484.6 608.2,484.3 608.9,484.3C609.6,484.4 610.4,484.7 611.1,484.8C611.8,484.8 612.6,484.8 613.3,484.7C614.1,484.6 614.8,484.2 615.6,484.2C616.3,484.1 617.0,484.2 617.8,484.3C618.5,484.3 619.2,484.4 620.0,484.5C620.8,484.7 621.7,485.1 622.5,485.2C623.3,485.3 624.1,485.2 625.0,485.3C626.0,485.4 627.1,485.8 628.2,486.0C629.3,486.2 630.4,486.2 631.4,486.5C632.5,486.8 633.5,487.3 634.5,487.7C635.6,488.2 636.6,488.4 637.7,489.1C639.3,490.1 641.5,491.8 642.8,493.5C644.1,495.2 644.7,496.8 645.4,499.3C646.5,503.1 646.7,509.1 647.3,514.5C648.0,520.5 648.6,526.8 649.2,533.6C649.9,541.5 650.6,551.0 651.1,559.1C651.6,566.4 651.9,572.0 652.3,580.0C652.9,590.8 653.4,606.1 654.0,618.2C654.5,629.3 655.0,641.2 655.6,650.0C656.0,656.3 656.5,666.3 657.0,666.3C657.5,666.3 658.2,654.8 658.6,650.0C658.9,646.3 659.1,644.3 659.3,640.0C659.7,631.9 660.1,616.0 660.6,605.4C661.0,596.3 661.5,589.1 661.9,580.0C662.4,569.6 662.5,556.8 663.2,546.4C663.8,537.3 664.7,528.8 665.7,520.9C666.6,514.1 667.1,506.5 668.9,501.8C670.1,498.7 671.5,495.7 673.4,494.8C674.9,494.1 677.0,495.0 678.5,495.5C679.9,495.9 681.2,497.4 682.3,497.4C683.2,497.4 683.9,496.3 684.8,496.1C685.9,495.9 687.2,496.7 688.6,496.7C690.5,496.7 693.1,495.6 695.0,495.5C696.5,495.5 697.4,496.2 698.9,496.0C701.3,495.7 704.8,493.6 707.8,492.5C710.8,491.4 713.7,489.7 716.7,489.3C719.6,488.9 723.3,488.8 725.6,489.8C727.5,490.7 728.9,492.1 730.0,494.2C731.6,497.2 732.0,502.1 732.7,506.7C733.6,512.1 734.0,518.6 734.5,524.5C735.0,530.4 735.5,537.7 735.9,542.3C736.2,545.2 736.3,549.4 736.6,549.4C737.0,549.4 737.9,543.2 738.4,538.7C739.3,530.9 738.7,514.0 740.2,506.7C741.0,502.7 741.7,499.3 743.4,497.8C744.6,496.8 746.7,496.4 747.9,496.9C749.1,497.5 749.8,499.4 750.5,501.4C751.6,504.7 751.7,510.1 752.3,515.6C753.1,523.1 753.3,542.2 754.4,542.3C755.2,542.3 756.4,528.1 757.3,528.1C758.0,528.1 758.8,534.0 759.4,537.0C760.1,540.2 760.5,546.8 761.2,546.8C762.0,546.8 763.1,538.2 763.9,533.4C764.9,527.9 764.8,519.4 766.5,515.6C767.4,513.5 768.6,511.9 770.1,511.2C771.6,510.5 774.0,510.8 775.4,511.2C776.5,511.5 777.3,513.0 778.1,512.9C779.1,512.7 780.1,509.3 780.8,509.4C781.7,509.6 781.9,513.0 782.5,515.6C783.5,519.8 783.9,531.8 785.7,532.2C787.0,532.5 789.2,525.2 790.8,525.2C792.2,525.2 793.6,528.5 794.6,530.9C796.0,534.2 796.5,538.6 797.2,543.6C798.2,550.6 798.4,561.6 799.1,569.1C799.6,575.0 800.2,579.7 800.7,584.8C801.2,589.6 800.9,596.5 802.3,598.8C802.9,599.9 804.2,599.5 804.8,600.5C805.9,602.2 805.9,605.8 806.4,609.6C807.2,615.8 807.7,627.1 808.1,634.4C808.4,640.2 808.5,650.1 808.9,650.1C809.3,650.1 810.1,635.2 810.6,626.1C811.3,614.2 811.7,598.6 812.2,584.8C812.7,571.1 812.7,554.6 813.7,543.6C814.4,536.2 815.3,525.2 816.3,525.2C817.1,525.2 818.1,532.1 818.8,537.3C820.0,546.4 820.0,562.1 820.7,575.0C821.5,588.6 822.0,616.9 823.3,617.0C824.3,617.0 826.0,592.2 827.1,592.2C828.0,592.2 828.8,602.9 829.6,609.6C830.7,618.8 831.8,632.3 832.9,642.6C833.9,651.7 834.8,668.3 835.7,668.3C836.6,668.3 837.6,651.7 838.2,642.6C838.9,632.3 838.9,620.7 839.5,609.6C840.1,598.4 841.0,575.7 842.0,575.7C842.7,575.7 843.8,586.8 844.5,593.1C845.3,600.4 845.4,617.0 846.1,617.0C846.8,617.0 847.8,601.7 848.6,593.1C849.5,583.0 850.4,569.1 851.1,560.0C851.6,553.6 851.9,549.8 852.5,543.6C853.3,535.5 854.1,522.8 855.7,515.6C856.7,510.9 858.0,507.0 859.5,504.2C860.5,502.3 861.6,501.1 862.8,499.9C863.9,498.8 865.2,497.0 866.2,497.2C867.6,497.5 868.3,504.6 869.6,504.8C870.8,504.9 872.4,499.6 873.8,499.3C874.7,499.1 875.7,499.9 876.5,500.6C877.6,501.5 878.2,504.7 879.3,504.8C880.5,504.9 881.8,501.4 883.4,500.6C884.8,499.9 887.1,499.1 888.2,499.9C889.9,501.1 889.6,506.2 890.3,510.3C891.3,516.2 892.0,532.0 893.0,532.0C893.9,532.0 894.9,519.8 895.8,514.4C896.5,509.9 896.6,505.7 897.8,502.0C898.8,498.8 900.0,494.6 902.0,493.3C903.5,492.3 905.5,492.9 907.4,493.1C909.4,493.3 912.1,493.3 913.6,494.4C915.0,495.4 915.6,497.4 916.4,499.3C917.4,501.6 918.3,504.1 919.1,507.5C920.3,512.8 921.2,521.8 921.9,528.1C922.5,533.4 922.6,542.6 923.3,542.6C924.0,542.6 925.1,531.9 926.0,526.8C926.9,522.0 927.9,517.0 928.8,513.0C929.5,509.9 930.0,504.8 930.8,504.8C931.6,504.8 932.6,511.4 933.6,514.4C934.5,517.1 935.0,520.3 936.3,522.0C937.2,523.2 938.6,524.3 939.8,524.3C941.1,524.3 942.6,523.2 943.9,522.0C945.8,520.3 947.4,516.8 949.4,514.4C951.5,512.0 954.1,509.7 956.3,507.5C958.3,505.5 959.6,503.2 961.8,501.7C964.1,500.1 967.2,499.0 970.0,498.2C972.7,497.4 975.7,496.7 978.3,496.8C980.7,496.9 983.2,497.7 985.2,498.6C987.0,499.5 988.7,502.0 990.0,502.0C990.8,502.0 991.3,501.1 992.0,500.6" fill="none" stroke="#000000" stroke-width="2.5" stroke-linejoin="round" stroke-linecap="round"/>
<text x="488.95" y="100.1" font-size="33" letter-spacing="0.44">BVOH</text>
<text x="492.45" y="207.3" font-size="33" letter-spacing="0.24">LMAB</text>
<text x="590.30" y="220.3" font-size="33">1</text>
<text x="493.95" y="276.4" font-size="33" letter-spacing="0.24">LMAB</text>
<text x="590.82" y="289.8" font-size="33">3</text>
<text x="492.85" y="355.4" font-size="33" letter-spacing="0.37">LMAB</text>
<text x="589.68" y="367.9" font-size="33">5</text>
<text x="493.95" y="440.0" font-size="33" letter-spacing="0.24">LMAB</text>
<text x="592.40" y="453.9" font-size="33" letter-spacing="0.06">10</text>
<text x="494.75" y="523.7" font-size="33" letter-spacing="0.08">PLA</text>
<text x="117.51" y="136.5" font-size="29" letter-spacing="-0.50">3310</text>
<text x="238.03" y="152.4" font-size="29" letter-spacing="-0.81">2918</text>
<text x="399.63" y="149.4" font-size="29" letter-spacing="-1.23">2851</text>
<text x="556.65" y="139.6" font-size="29" letter-spacing="-1.24">1735</text>
<text x="691.85" y="148.1" font-size="29" letter-spacing="-1.15">1249</text>
<text x="147.77" y="535.6" font-size="32" letter-spacing="-0.81">3356</text>
<text x="540.35" y="620.9" font-size="29" letter-spacing="-1.38">1748</text>
<text x="666.15" y="596.4" font-size="29" letter-spacing="-1.35">1452</text>
<text x="740.45" y="604.4" font-size="29" letter-spacing="-1.45">1358</text>
<text x="707.95" y="639.6" font-size="29" letter-spacing="-1.25">1180</text>
<text x="867.15" y="631.7" font-size="29" letter-spacing="-1.84">1081</text>
<line x1="175.7" y1="125.5" x2="214.9" y2="119.0" stroke="#000" stroke-width="1.3"/>
<polygon points="231.7,116.2 213.8,124.5 212.1,114.1" fill="#000"/>
<line x1="299.5" y1="143.5" x2="321.0" y2="137.2" stroke="#000" stroke-width="1.3"/>
<polygon points="337.3,132.4 320.6,142.8 317.6,132.7" fill="#000"/>
<line x1="401.1" y1="138.2" x2="375.9" y2="117.6" stroke="#000" stroke-width="1.3"/>
<polygon points="362.8,106.8 380.9,114.7 374.1,122.9" fill="#000"/>
<line x1="613.6" y1="129.9" x2="645.1" y2="110.9" stroke="#000" stroke-width="1.3"/>
<polygon points="659.7,102.1 646.2,116.5 640.7,107.4" fill="#000"/>
<line x1="750.6" y1="141.2" x2="770.8" y2="134.6" stroke="#000" stroke-width="1.3"/>
<polygon points="787,129.4 770.6,140.3 767.3,130.2" fill="#000"/>
<line x1="599" y1="620.7" x2="634.9" y2="647.9" stroke="#000" stroke-width="1.3"/>
<polygon points="648.5,658.2 630.2,651.0 636.6,642.5" fill="#000"/>
<line x1="694.2" y1="575.4" x2="722.2" y2="559.1" stroke="#000" stroke-width="1.3"/>
<polygon points="736.9,550.6 723.1,564.7 717.8,555.6" fill="#000"/>
<line x1="776.7" y1="585.7" x2="768.6" y2="566.7" stroke="#000" stroke-width="1.3"/>
<polygon points="762,551 774.3,566.4 764.5,570.6" fill="#000"/>
<line x1="762.5" y1="630.2" x2="789.5" y2="642.8" stroke="#000" stroke-width="1.3"/>
<polygon points="804.9,650 785.4,646.8 789.9,637.2" fill="#000"/>
<line x1="889.8" y1="633.5" x2="855.8" y2="655.0" stroke="#000" stroke-width="1.3"/>
<polygon points="841.4,664.1 854.6,649.5 860.3,658.4" fill="#000"/>
</svg></body></html>
